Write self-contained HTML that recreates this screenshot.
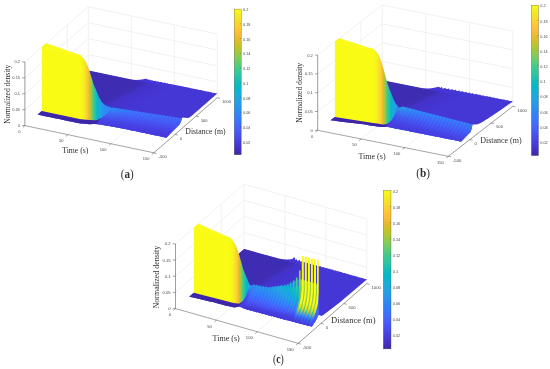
<!DOCTYPE html>
<html><head><meta charset="utf-8"><title>Figure</title>
<style>
html,body{margin:0;padding:0;background:#fff}
svg{display:block;filter:blur(0.45px)}
.tk{font-family:"Liberation Sans",sans-serif;fill:#4a4a4a}
.sf{font-family:"Liberation Serif",serif;fill:#303030}
</style></head><body>
<svg width="550" height="369" viewBox="0 0 550 369">
<rect width="550" height="369" fill="#fff"/>
<defs>
<linearGradient id="wga" gradientUnits="userSpaceOnUse" x1="85.6" y1="115.6" x2="86.1" y2="116.5"><stop offset="0" stop-color="#3e2bb0" stop-opacity="1"/><stop offset="1" stop-color="#3e2bb0" stop-opacity="1"/></linearGradient>
<linearGradient id="wha" gradientUnits="userSpaceOnUse" x1="83.6" y1="111.8" x2="93.5" y2="130.5"><stop offset="0" stop-color="#3e2db3"/><stop offset="0.17" stop-color="#3f2fb9"/><stop offset="0.24" stop-color="#4232c6"/><stop offset="0.5" stop-color="#4434cf"/><stop offset="1" stop-color="#4537d6"/></linearGradient>
<linearGradient id="paa" gradientUnits="userSpaceOnUse" x1="112.3" y1="107.6" x2="182" y2="118.2"><stop offset="0" stop-color="#2c8ff1"/><stop offset="0.1" stop-color="#317efb"/><stop offset="0.3" stop-color="#416bfe"/><stop offset="1" stop-color="#475cfa"/></linearGradient>
<linearGradient id="pba" gradientUnits="userSpaceOnUse" x1="112.3" y1="107.6" x2="109.5" y2="126.4"><stop offset="0" stop-color="#4755f6" stop-opacity="0"/><stop offset="0.1" stop-color="#4758f8" stop-opacity="0.15"/><stop offset="0.22" stop-color="#4755f6" stop-opacity="0.45"/><stop offset="0.45" stop-color="#484cef" stop-opacity="0.8"/><stop offset="0.72" stop-color="#4741e5" stop-opacity="0.97"/><stop offset="1" stop-color="#463adc" stop-opacity="1"/></linearGradient>
<linearGradient id="sga" gradientUnits="userSpaceOnUse" x1="112.3" y1="107.6" x2="109.5" y2="126.4"><stop offset="0" stop-color="#259ce7" stop-opacity="0.4"/><stop offset="0.25" stop-color="#2e83f9" stop-opacity="0.34"/><stop offset="0.55" stop-color="#4367fd" stop-opacity="0.22000000000000003"/><stop offset="0.8" stop-color="#4755f6" stop-opacity="0.08000000000000002"/><stop offset="0.92" stop-color="#4755f6" stop-opacity="0"/></linearGradient>
<linearGradient id="wla" gradientUnits="userSpaceOnUse" x1="41.8" y1="0" x2="112.3" y2="0"><stop offset="0.000" stop-color="#f9fb15"/><stop offset="0.537" stop-color="#f9fb15"/><stop offset="0.563" stop-color="#f8f719"/><stop offset="0.598" stop-color="#f5ec22"/><stop offset="0.627" stop-color="#f8da2b"/><stop offset="0.652" stop-color="#fec339"/><stop offset="0.680" stop-color="#d7be28"/><stop offset="0.707" stop-color="#8dcb4f"/><stop offset="0.733" stop-color="#41ca8c"/><stop offset="0.762" stop-color="#21c1b0"/><stop offset="0.789" stop-color="#01b8ca"/><stop offset="0.817" stop-color="#1da9e0"/><stop offset="0.851" stop-color="#2699ea"/><stop offset="0.890" stop-color="#2d8df2"/><stop offset="0.927" stop-color="#2d88f6"/><stop offset="0.963" stop-color="#2e87f7"/><stop offset="1.000" stop-color="#2e85f8"/></linearGradient>
<linearGradient id="cba" x1="0" y1="0" x2="0" y2="1"><stop offset="0%" stop-color="#f9fb15"/><stop offset="4.2%" stop-color="#f5eb23"/><stop offset="8.3%" stop-color="#f7db2b"/><stop offset="12.5%" stop-color="#feca33"/><stop offset="16.7%" stop-color="#fbbc3d"/><stop offset="20.8%" stop-color="#e5bb2d"/><stop offset="25%" stop-color="#c8c129"/><stop offset="29.2%" stop-color="#a6c83c"/><stop offset="33.3%" stop-color="#81cc59"/><stop offset="37.5%" stop-color="#5ccc76"/><stop offset="41.7%" stop-color="#3dc990"/><stop offset="45.8%" stop-color="#2cc4a6"/><stop offset="50%" stop-color="#12beb9"/><stop offset="54.2%" stop-color="#02b7cb"/><stop offset="58.3%" stop-color="#17aeda"/><stop offset="62.5%" stop-color="#21a3e3"/><stop offset="66.7%" stop-color="#2797eb"/><stop offset="70.8%" stop-color="#2d89f5"/><stop offset="75%" stop-color="#347afd"/><stop offset="79.2%" stop-color="#426afe"/><stop offset="83.3%" stop-color="#475bf9"/><stop offset="87.5%" stop-color="#484cef"/><stop offset="91.7%" stop-color="#463de0"/><stop offset="95.8%" stop-color="#4331c7"/><stop offset="100%" stop-color="#3e26a8"/></linearGradient>
<linearGradient id="wgb" gradientUnits="userSpaceOnUse" x1="379.3" y1="121.6" x2="379.7" y2="122.5"><stop offset="0" stop-color="#3e2bb0" stop-opacity="1"/><stop offset="1" stop-color="#3e2bb0" stop-opacity="1"/></linearGradient>
<linearGradient id="whb" gradientUnits="userSpaceOnUse" x1="377.5" y1="118" x2="386.5" y2="136.2"><stop offset="0" stop-color="#3e2db3"/><stop offset="0.17" stop-color="#3f2fb9"/><stop offset="0.24" stop-color="#4232c6"/><stop offset="0.5" stop-color="#4434cf"/><stop offset="1" stop-color="#4537d6"/></linearGradient>
<linearGradient id="pab" gradientUnits="userSpaceOnUse" x1="402.8" y1="106.4" x2="472.7" y2="124.6"><stop offset="0" stop-color="#249fe6"/><stop offset="0.08" stop-color="#2d8cf3"/><stop offset="0.25" stop-color="#347afd"/><stop offset="1" stop-color="#4367fd"/></linearGradient>
<linearGradient id="pbb" gradientUnits="userSpaceOnUse" x1="402.8" y1="106.4" x2="397.2" y2="128.1"><stop offset="0" stop-color="#4755f6" stop-opacity="0"/><stop offset="0.1" stop-color="#4758f8" stop-opacity="0.15"/><stop offset="0.22" stop-color="#4755f6" stop-opacity="0.45"/><stop offset="0.45" stop-color="#484cef" stop-opacity="0.8"/><stop offset="0.72" stop-color="#4741e5" stop-opacity="0.97"/><stop offset="1" stop-color="#463adc" stop-opacity="1"/></linearGradient>
<linearGradient id="sgb" gradientUnits="userSpaceOnUse" x1="402.8" y1="106.4" x2="397.2" y2="128.1"><stop offset="0" stop-color="#259ce7" stop-opacity="0.75"/><stop offset="0.25" stop-color="#2e83f9" stop-opacity="0.6375"/><stop offset="0.55" stop-color="#4367fd" stop-opacity="0.41250000000000003"/><stop offset="0.8" stop-color="#4755f6" stop-opacity="0.15000000000000002"/><stop offset="0.92" stop-color="#4755f6" stop-opacity="0"/></linearGradient>
<linearGradient id="wlb" gradientUnits="userSpaceOnUse" x1="334.9" y1="0" x2="406.3" y2="0"><stop offset="0.000" stop-color="#f9fb15"/><stop offset="0.537" stop-color="#f9fb15"/><stop offset="0.563" stop-color="#f8f719"/><stop offset="0.598" stop-color="#f5ec22"/><stop offset="0.627" stop-color="#f8da2b"/><stop offset="0.652" stop-color="#fec339"/><stop offset="0.680" stop-color="#d7be28"/><stop offset="0.707" stop-color="#8dcb4f"/><stop offset="0.733" stop-color="#41ca8c"/><stop offset="0.762" stop-color="#21c1b0"/><stop offset="0.789" stop-color="#01b8ca"/><stop offset="0.817" stop-color="#1da9e0"/><stop offset="0.851" stop-color="#2699ea"/><stop offset="0.890" stop-color="#2d8df2"/><stop offset="0.927" stop-color="#2d88f6"/><stop offset="0.963" stop-color="#2e87f7"/><stop offset="1.000" stop-color="#2e85f8"/></linearGradient>
<linearGradient id="cbb" x1="0" y1="0" x2="0" y2="1"><stop offset="0%" stop-color="#f9fb15"/><stop offset="4.2%" stop-color="#f5eb23"/><stop offset="8.3%" stop-color="#f7db2b"/><stop offset="12.5%" stop-color="#feca33"/><stop offset="16.7%" stop-color="#fbbc3d"/><stop offset="20.8%" stop-color="#e5bb2d"/><stop offset="25%" stop-color="#c8c129"/><stop offset="29.2%" stop-color="#a6c83c"/><stop offset="33.3%" stop-color="#81cc59"/><stop offset="37.5%" stop-color="#5ccc76"/><stop offset="41.7%" stop-color="#3dc990"/><stop offset="45.8%" stop-color="#2cc4a6"/><stop offset="50%" stop-color="#12beb9"/><stop offset="54.2%" stop-color="#02b7cb"/><stop offset="58.3%" stop-color="#17aeda"/><stop offset="62.5%" stop-color="#21a3e3"/><stop offset="66.7%" stop-color="#2797eb"/><stop offset="70.8%" stop-color="#2d89f5"/><stop offset="75%" stop-color="#347afd"/><stop offset="79.2%" stop-color="#426afe"/><stop offset="83.3%" stop-color="#475bf9"/><stop offset="87.5%" stop-color="#484cef"/><stop offset="91.7%" stop-color="#463de0"/><stop offset="95.8%" stop-color="#4331c7"/><stop offset="100%" stop-color="#3e26a8"/></linearGradient>
<linearGradient id="wgc" gradientUnits="userSpaceOnUse" x1="236" y1="299.3" x2="236.5" y2="300.2"><stop offset="0" stop-color="#3e2bb0" stop-opacity="1"/><stop offset="1" stop-color="#3e2bb0" stop-opacity="1"/></linearGradient>
<linearGradient id="whc" gradientUnits="userSpaceOnUse" x1="233.5" y1="295.3" x2="245.8" y2="315.3"><stop offset="0" stop-color="#3e2db3"/><stop offset="0.17" stop-color="#3f2fb9"/><stop offset="0.24" stop-color="#4232c6"/><stop offset="0.5" stop-color="#4434cf"/><stop offset="1" stop-color="#4537d6"/></linearGradient>
<linearGradient id="pac" gradientUnits="userSpaceOnUse" x1="248.5" y1="285.3" x2="318.9" y2="314.4"><stop offset="0" stop-color="#2d8cf3"/><stop offset="0.5" stop-color="#347afd"/><stop offset="1" stop-color="#4367fd"/></linearGradient>
<linearGradient id="pbc" gradientUnits="userSpaceOnUse" x1="248.5" y1="285.3" x2="241.1" y2="303.2"><stop offset="0" stop-color="#4755f6" stop-opacity="0"/><stop offset="0.1" stop-color="#4758f8" stop-opacity="0.15"/><stop offset="0.22" stop-color="#4755f6" stop-opacity="0.45"/><stop offset="0.45" stop-color="#484cef" stop-opacity="0.8"/><stop offset="0.72" stop-color="#4741e5" stop-opacity="0.97"/><stop offset="1" stop-color="#463adc" stop-opacity="1"/></linearGradient>
<linearGradient id="vc0" gradientUnits="userSpaceOnUse" x1="0" y1="283.7" x2="0" y2="325.6"><stop offset="0.000" stop-color="#92ca4c"/><stop offset="0.100" stop-color="#92ca4c"/><stop offset="0.200" stop-color="#92ca4c"/><stop offset="0.300" stop-color="#92ca4c"/><stop offset="0.400" stop-color="#92ca4c"/><stop offset="0.500" stop-color="#92ca4c"/><stop offset="0.600" stop-color="#92ca4c"/><stop offset="0.700" stop-color="#2fc5a3"/><stop offset="0.800" stop-color="#2c8ef1"/><stop offset="0.900" stop-color="#463adb"/><stop offset="1.000" stop-color="#463adb"/></linearGradient>
<linearGradient id="fc0" gradientUnits="userSpaceOnUse" x1="0" y1="260.2" x2="0" y2="325.6"><stop offset="0.000" stop-color="#f9fb15"/><stop offset="0.100" stop-color="#f9fb15"/><stop offset="0.200" stop-color="#f9fb15"/><stop offset="0.300" stop-color="#f9fb15"/><stop offset="0.400" stop-color="#f9fb15"/><stop offset="0.500" stop-color="#f9fb15"/><stop offset="0.600" stop-color="#f9fb15"/><stop offset="0.700" stop-color="#f9fb15"/><stop offset="0.800" stop-color="#d0db27"/><stop offset="0.900" stop-color="#317efb"/><stop offset="1.000" stop-color="#463adb"/></linearGradient>
<linearGradient id="vc1" gradientUnits="userSpaceOnUse" x1="0" y1="282.8" x2="0" y2="324.8"><stop offset="0.000" stop-color="#91ca4c"/><stop offset="0.100" stop-color="#91ca4c"/><stop offset="0.200" stop-color="#91ca4c"/><stop offset="0.300" stop-color="#91ca4c"/><stop offset="0.400" stop-color="#91ca4c"/><stop offset="0.500" stop-color="#91ca4c"/><stop offset="0.600" stop-color="#91ca4c"/><stop offset="0.700" stop-color="#2fc5a3"/><stop offset="0.800" stop-color="#2c8ef1"/><stop offset="0.900" stop-color="#463adb"/><stop offset="1.000" stop-color="#463adb"/></linearGradient>
<linearGradient id="fc1" gradientUnits="userSpaceOnUse" x1="0" y1="259.3" x2="0" y2="324.8"><stop offset="0.000" stop-color="#f9fb15"/><stop offset="0.100" stop-color="#f9fb15"/><stop offset="0.200" stop-color="#f9fb15"/><stop offset="0.300" stop-color="#f9fb15"/><stop offset="0.400" stop-color="#f9fb15"/><stop offset="0.500" stop-color="#f9fb15"/><stop offset="0.600" stop-color="#f9fb15"/><stop offset="0.700" stop-color="#f9fb15"/><stop offset="0.800" stop-color="#cfda27"/><stop offset="0.900" stop-color="#317efb"/><stop offset="1.000" stop-color="#463adb"/></linearGradient>
<linearGradient id="vc2" gradientUnits="userSpaceOnUse" x1="0" y1="282" x2="0" y2="324"><stop offset="0.000" stop-color="#91ca4c"/><stop offset="0.100" stop-color="#91ca4c"/><stop offset="0.200" stop-color="#91ca4c"/><stop offset="0.300" stop-color="#91ca4c"/><stop offset="0.400" stop-color="#91ca4c"/><stop offset="0.500" stop-color="#91ca4c"/><stop offset="0.600" stop-color="#91ca4c"/><stop offset="0.700" stop-color="#2fc5a3"/><stop offset="0.800" stop-color="#2c8ef1"/><stop offset="0.900" stop-color="#463ada"/><stop offset="1.000" stop-color="#463ada"/></linearGradient>
<linearGradient id="fc2" gradientUnits="userSpaceOnUse" x1="0" y1="258.5" x2="0" y2="324"><stop offset="0.000" stop-color="#f9fb15"/><stop offset="0.100" stop-color="#f9fb15"/><stop offset="0.200" stop-color="#f9fb15"/><stop offset="0.300" stop-color="#f9fb15"/><stop offset="0.400" stop-color="#f9fb15"/><stop offset="0.500" stop-color="#f9fb15"/><stop offset="0.600" stop-color="#f9fb15"/><stop offset="0.700" stop-color="#f9fb15"/><stop offset="0.800" stop-color="#cfda27"/><stop offset="0.900" stop-color="#317dfc"/><stop offset="1.000" stop-color="#463ada"/></linearGradient>
<linearGradient id="vc3" gradientUnits="userSpaceOnUse" x1="0" y1="281.1" x2="0" y2="323.1"><stop offset="0.000" stop-color="#91ca4c"/><stop offset="0.100" stop-color="#91ca4c"/><stop offset="0.200" stop-color="#91ca4c"/><stop offset="0.300" stop-color="#91ca4c"/><stop offset="0.400" stop-color="#91ca4c"/><stop offset="0.500" stop-color="#91ca4c"/><stop offset="0.600" stop-color="#91ca4c"/><stop offset="0.700" stop-color="#2ec5a3"/><stop offset="0.800" stop-color="#2c8ef1"/><stop offset="0.900" stop-color="#4639da"/><stop offset="1.000" stop-color="#4639da"/></linearGradient>
<linearGradient id="fc3" gradientUnits="userSpaceOnUse" x1="0" y1="257.6" x2="0" y2="323.1"><stop offset="0.000" stop-color="#f9fb15"/><stop offset="0.100" stop-color="#f9fb15"/><stop offset="0.200" stop-color="#f9fb15"/><stop offset="0.300" stop-color="#f9fb15"/><stop offset="0.400" stop-color="#f9fb15"/><stop offset="0.500" stop-color="#f9fb15"/><stop offset="0.600" stop-color="#f9fb15"/><stop offset="0.700" stop-color="#f9fb15"/><stop offset="0.800" stop-color="#cfda27"/><stop offset="0.900" stop-color="#317dfc"/><stop offset="1.000" stop-color="#4639da"/></linearGradient>
<linearGradient id="vc4" gradientUnits="userSpaceOnUse" x1="0" y1="280.3" x2="0" y2="322.3"><stop offset="0.000" stop-color="#91ca4c"/><stop offset="0.100" stop-color="#91ca4c"/><stop offset="0.200" stop-color="#91ca4c"/><stop offset="0.300" stop-color="#91ca4c"/><stop offset="0.400" stop-color="#91ca4c"/><stop offset="0.500" stop-color="#91ca4c"/><stop offset="0.600" stop-color="#91ca4c"/><stop offset="0.700" stop-color="#2ec5a4"/><stop offset="0.800" stop-color="#2c8ef2"/><stop offset="0.900" stop-color="#4639da"/><stop offset="1.000" stop-color="#4639da"/></linearGradient>
<linearGradient id="fc4" gradientUnits="userSpaceOnUse" x1="0" y1="256.8" x2="0" y2="322.3"><stop offset="0.000" stop-color="#f9fb15"/><stop offset="0.100" stop-color="#f9fb15"/><stop offset="0.200" stop-color="#f9fb15"/><stop offset="0.300" stop-color="#f9fb15"/><stop offset="0.400" stop-color="#f9fb15"/><stop offset="0.500" stop-color="#f9fb15"/><stop offset="0.600" stop-color="#f9fb15"/><stop offset="0.700" stop-color="#f9fb15"/><stop offset="0.800" stop-color="#cfda27"/><stop offset="0.900" stop-color="#317dfc"/><stop offset="1.000" stop-color="#4639da"/></linearGradient>
<linearGradient id="vc5" gradientUnits="userSpaceOnUse" x1="0" y1="279.4" x2="0" y2="321.5"><stop offset="0.000" stop-color="#91ca4d"/><stop offset="0.100" stop-color="#91ca4d"/><stop offset="0.200" stop-color="#91ca4d"/><stop offset="0.300" stop-color="#91ca4d"/><stop offset="0.400" stop-color="#91ca4d"/><stop offset="0.500" stop-color="#91ca4d"/><stop offset="0.600" stop-color="#91ca4d"/><stop offset="0.700" stop-color="#2ec5a4"/><stop offset="0.800" stop-color="#2c8ef2"/><stop offset="0.900" stop-color="#4639d9"/><stop offset="1.000" stop-color="#4639d9"/></linearGradient>
<linearGradient id="fc5" gradientUnits="userSpaceOnUse" x1="0" y1="255.9" x2="0" y2="321.5"><stop offset="0.000" stop-color="#f9fb15"/><stop offset="0.100" stop-color="#f9fb15"/><stop offset="0.200" stop-color="#f9fb15"/><stop offset="0.300" stop-color="#f9fb15"/><stop offset="0.400" stop-color="#f9fb15"/><stop offset="0.500" stop-color="#f9fb15"/><stop offset="0.600" stop-color="#f9fb15"/><stop offset="0.700" stop-color="#f9fb15"/><stop offset="0.800" stop-color="#cfda27"/><stop offset="0.900" stop-color="#327dfc"/><stop offset="1.000" stop-color="#4639d9"/></linearGradient>
<linearGradient id="vc6" gradientUnits="userSpaceOnUse" x1="0" y1="286.2" x2="0" y2="320.7"><stop offset="0.000" stop-color="#1cc0b4"/><stop offset="0.100" stop-color="#01b9c6"/><stop offset="0.200" stop-color="#12b1d7"/><stop offset="0.300" stop-color="#1fa5e2"/><stop offset="0.400" stop-color="#2798ea"/><stop offset="0.500" stop-color="#2d88f6"/><stop offset="0.600" stop-color="#3776fe"/><stop offset="0.700" stop-color="#4562fc"/><stop offset="0.800" stop-color="#484ef1"/><stop offset="0.900" stop-color="#4539d9"/><stop offset="1.000" stop-color="#4539d9"/></linearGradient>
<linearGradient id="fc6" gradientUnits="userSpaceOnUse" x1="0" y1="270.5" x2="0" y2="320.7"><stop offset="0.000" stop-color="#b3c534"/><stop offset="0.100" stop-color="#adc638"/><stop offset="0.200" stop-color="#99c946"/><stop offset="0.300" stop-color="#76cc61"/><stop offset="0.400" stop-color="#4acb85"/><stop offset="0.500" stop-color="#29c3aa"/><stop offset="0.600" stop-color="#05b6cd"/><stop offset="0.700" stop-color="#259ce7"/><stop offset="0.800" stop-color="#3876fe"/><stop offset="0.900" stop-color="#4747eb"/><stop offset="1.000" stop-color="#4539d9"/></linearGradient>
<linearGradient id="vc7" gradientUnits="userSpaceOnUse" x1="0" y1="287.1" x2="0" y2="319.9"><stop offset="0.000" stop-color="#02bac4"/><stop offset="0.100" stop-color="#0eb2d4"/><stop offset="0.200" stop-color="#1da9e0"/><stop offset="0.300" stop-color="#249de6"/><stop offset="0.400" stop-color="#2b91ef"/><stop offset="0.500" stop-color="#2e83f9"/><stop offset="0.600" stop-color="#3c72ff"/><stop offset="0.700" stop-color="#4660fc"/><stop offset="0.800" stop-color="#484ef1"/><stop offset="0.900" stop-color="#463adb"/><stop offset="1.000" stop-color="#4539d8"/></linearGradient>
<linearGradient id="fc7" gradientUnits="userSpaceOnUse" x1="0" y1="277.5" x2="0" y2="319.9"><stop offset="0.000" stop-color="#4acb85"/><stop offset="0.100" stop-color="#46cb88"/><stop offset="0.200" stop-color="#3ac993"/><stop offset="0.300" stop-color="#2ec5a3"/><stop offset="0.400" stop-color="#15bfb7"/><stop offset="0.500" stop-color="#06b5cf"/><stop offset="0.600" stop-color="#20a5e3"/><stop offset="0.700" stop-color="#2d8cf3"/><stop offset="0.800" stop-color="#426afe"/><stop offset="0.900" stop-color="#4744e8"/><stop offset="1.000" stop-color="#4539d8"/></linearGradient>
<linearGradient id="vc8" gradientUnits="userSpaceOnUse" x1="0" y1="287.2" x2="0" y2="319.1"><stop offset="0.000" stop-color="#04b6cd"/><stop offset="0.100" stop-color="#17aedb"/><stop offset="0.200" stop-color="#21a4e3"/><stop offset="0.300" stop-color="#2699ea"/><stop offset="0.400" stop-color="#2d8cf3"/><stop offset="0.500" stop-color="#307ffb"/><stop offset="0.600" stop-color="#3e6fff"/><stop offset="0.700" stop-color="#465ffb"/><stop offset="0.800" stop-color="#484ef1"/><stop offset="0.900" stop-color="#463bdd"/><stop offset="1.000" stop-color="#4538d8"/></linearGradient>
<linearGradient id="fc8" gradientUnits="userSpaceOnUse" x1="0" y1="280.6" x2="0" y2="319.1"><stop offset="0.000" stop-color="#2cc4a7"/><stop offset="0.100" stop-color="#2ac3a9"/><stop offset="0.200" stop-color="#20c1b1"/><stop offset="0.300" stop-color="#0bbdbd"/><stop offset="0.400" stop-color="#04b6cd"/><stop offset="0.500" stop-color="#1aabde"/><stop offset="0.600" stop-color="#269ae9"/><stop offset="0.700" stop-color="#2f83f9"/><stop offset="0.800" stop-color="#4564fd"/><stop offset="0.900" stop-color="#4742e6"/><stop offset="1.000" stop-color="#4538d8"/></linearGradient>
<linearGradient id="vc9" gradientUnits="userSpaceOnUse" x1="0" y1="287" x2="0" y2="318.3"><stop offset="0.000" stop-color="#0cb3d3"/><stop offset="0.100" stop-color="#1baade"/><stop offset="0.200" stop-color="#23a0e5"/><stop offset="0.300" stop-color="#2895ec"/><stop offset="0.400" stop-color="#2d89f5"/><stop offset="0.500" stop-color="#327cfc"/><stop offset="0.600" stop-color="#406dfe"/><stop offset="0.700" stop-color="#465dfb"/><stop offset="0.800" stop-color="#484df0"/><stop offset="0.900" stop-color="#463bde"/><stop offset="1.000" stop-color="#4538d8"/></linearGradient>
<linearGradient id="fc9" gradientUnits="userSpaceOnUse" x1="0" y1="282.5" x2="0" y2="318.3"><stop offset="0.000" stop-color="#11beba"/><stop offset="0.100" stop-color="#0cbdbc"/><stop offset="0.200" stop-color="#03bbc2"/><stop offset="0.300" stop-color="#04b6cc"/><stop offset="0.400" stop-color="#16afd9"/><stop offset="0.500" stop-color="#21a3e3"/><stop offset="0.600" stop-color="#2b92ee"/><stop offset="0.700" stop-color="#327cfc"/><stop offset="0.800" stop-color="#465ffb"/><stop offset="0.900" stop-color="#4741e5"/><stop offset="1.000" stop-color="#4538d8"/></linearGradient>
<linearGradient id="vc10" gradientUnits="userSpaceOnUse" x1="0" y1="286.6" x2="0" y2="317.5"><stop offset="0.000" stop-color="#14b0d8"/><stop offset="0.100" stop-color="#1ea7e1"/><stop offset="0.200" stop-color="#259de7"/><stop offset="0.300" stop-color="#2b92ee"/><stop offset="0.400" stop-color="#2e86f7"/><stop offset="0.500" stop-color="#3479fd"/><stop offset="0.600" stop-color="#416bfe"/><stop offset="0.700" stop-color="#475cfa"/><stop offset="0.800" stop-color="#484df0"/><stop offset="0.900" stop-color="#463cde"/><stop offset="1.000" stop-color="#4538d7"/></linearGradient>
<linearGradient id="fc10" gradientUnits="userSpaceOnUse" x1="0" y1="284" x2="0" y2="317.5"><stop offset="0.000" stop-color="#01b8c9"/><stop offset="0.100" stop-color="#02b7cb"/><stop offset="0.200" stop-color="#08b4d0"/><stop offset="0.300" stop-color="#15afd9"/><stop offset="0.400" stop-color="#1ea7e1"/><stop offset="0.500" stop-color="#259be8"/><stop offset="0.600" stop-color="#2d8bf4"/><stop offset="0.700" stop-color="#3875fe"/><stop offset="0.800" stop-color="#475cfa"/><stop offset="0.900" stop-color="#4740e4"/><stop offset="1.000" stop-color="#4538d7"/></linearGradient>
<linearGradient id="vc11" gradientUnits="userSpaceOnUse" x1="0" y1="286.2" x2="0" y2="316.6"><stop offset="0.000" stop-color="#18aedb"/><stop offset="0.100" stop-color="#20a4e3"/><stop offset="0.200" stop-color="#269ae8"/><stop offset="0.300" stop-color="#2c8ff0"/><stop offset="0.400" stop-color="#2e84f8"/><stop offset="0.500" stop-color="#3677fe"/><stop offset="0.600" stop-color="#4269fe"/><stop offset="0.700" stop-color="#475bf9"/><stop offset="0.800" stop-color="#484cf0"/><stop offset="0.900" stop-color="#463cde"/><stop offset="1.000" stop-color="#4538d7"/></linearGradient>
<linearGradient id="fc11" gradientUnits="userSpaceOnUse" x1="0" y1="284.8" x2="0" y2="316.6"><stop offset="0.000" stop-color="#0db3d3"/><stop offset="0.100" stop-color="#0fb2d5"/><stop offset="0.200" stop-color="#15afd9"/><stop offset="0.300" stop-color="#1caadf"/><stop offset="0.400" stop-color="#23a1e4"/><stop offset="0.500" stop-color="#2895ec"/><stop offset="0.600" stop-color="#2e86f7"/><stop offset="0.700" stop-color="#3c71ff"/><stop offset="0.800" stop-color="#4759f8"/><stop offset="0.900" stop-color="#473fe3"/><stop offset="1.000" stop-color="#4538d7"/></linearGradient>
<linearGradient id="vc12" gradientUnits="userSpaceOnUse" x1="0" y1="286" x2="0" y2="315.8"><stop offset="0.000" stop-color="#1baade"/><stop offset="0.100" stop-color="#23a1e4"/><stop offset="0.200" stop-color="#2797eb"/><stop offset="0.300" stop-color="#2d8cf3"/><stop offset="0.400" stop-color="#2f81fa"/><stop offset="0.500" stop-color="#3974fe"/><stop offset="0.600" stop-color="#4367fd"/><stop offset="0.700" stop-color="#475af9"/><stop offset="0.800" stop-color="#484bef"/><stop offset="0.900" stop-color="#463cde"/><stop offset="1.000" stop-color="#4537d6"/></linearGradient>
<linearGradient id="fc12" gradientUnits="userSpaceOnUse" x1="0" y1="285.2" x2="0" y2="315.8"><stop offset="0.000" stop-color="#17aeda"/><stop offset="0.100" stop-color="#18addb"/><stop offset="0.200" stop-color="#1caadf"/><stop offset="0.300" stop-color="#20a4e3"/><stop offset="0.400" stop-color="#259ce7"/><stop offset="0.500" stop-color="#2b91ef"/><stop offset="0.600" stop-color="#2f82fa"/><stop offset="0.700" stop-color="#3f6dfe"/><stop offset="0.800" stop-color="#4757f7"/><stop offset="0.900" stop-color="#473fe2"/><stop offset="1.000" stop-color="#4537d6"/></linearGradient>
<linearGradient id="vc13" gradientUnits="userSpaceOnUse" x1="0" y1="286.5" x2="0" y2="315"><stop offset="0.000" stop-color="#20a5e3"/><stop offset="0.100" stop-color="#259be7"/><stop offset="0.200" stop-color="#2b92ee"/><stop offset="0.300" stop-color="#2d87f6"/><stop offset="0.400" stop-color="#327dfc"/><stop offset="0.500" stop-color="#3d70ff"/><stop offset="0.600" stop-color="#4464fd"/><stop offset="0.700" stop-color="#4758f8"/><stop offset="0.800" stop-color="#484aee"/><stop offset="0.900" stop-color="#463bdd"/><stop offset="1.000" stop-color="#4537d6"/></linearGradient>
<linearGradient id="fc13" gradientUnits="userSpaceOnUse" x1="0" y1="285.7" x2="0" y2="315"><stop offset="0.000" stop-color="#1ca9e0"/><stop offset="0.100" stop-color="#1da8e0"/><stop offset="0.200" stop-color="#20a5e3"/><stop offset="0.300" stop-color="#249fe5"/><stop offset="0.400" stop-color="#2797eb"/><stop offset="0.500" stop-color="#2d8cf3"/><stop offset="0.600" stop-color="#317dfc"/><stop offset="0.700" stop-color="#426afe"/><stop offset="0.800" stop-color="#4755f6"/><stop offset="0.900" stop-color="#463ee1"/><stop offset="1.000" stop-color="#4537d6"/></linearGradient>
<linearGradient id="vc14" gradientUnits="userSpaceOnUse" x1="0" y1="286.9" x2="0" y2="314.2"><stop offset="0.000" stop-color="#249fe5"/><stop offset="0.100" stop-color="#2896eb"/><stop offset="0.200" stop-color="#2d8df3"/><stop offset="0.300" stop-color="#2e83f9"/><stop offset="0.400" stop-color="#3678fd"/><stop offset="0.500" stop-color="#406cfe"/><stop offset="0.600" stop-color="#4561fc"/><stop offset="0.700" stop-color="#4755f6"/><stop offset="0.800" stop-color="#4849ed"/><stop offset="0.900" stop-color="#463bdc"/><stop offset="1.000" stop-color="#4537d6"/></linearGradient>
<linearGradient id="fc14" gradientUnits="userSpaceOnUse" x1="0" y1="286.1" x2="0" y2="314.2"><stop offset="0.000" stop-color="#21a3e3"/><stop offset="0.100" stop-color="#22a2e4"/><stop offset="0.200" stop-color="#249fe5"/><stop offset="0.300" stop-color="#269ae9"/><stop offset="0.400" stop-color="#2b92ee"/><stop offset="0.500" stop-color="#2e87f7"/><stop offset="0.600" stop-color="#3579fd"/><stop offset="0.700" stop-color="#4367fd"/><stop offset="0.800" stop-color="#4853f5"/><stop offset="0.900" stop-color="#463de0"/><stop offset="1.000" stop-color="#4537d6"/></linearGradient>
<linearGradient id="vc15" gradientUnits="userSpaceOnUse" x1="0" y1="287.4" x2="0" y2="313.4"><stop offset="0.000" stop-color="#2699e9"/><stop offset="0.100" stop-color="#2b90f0"/><stop offset="0.200" stop-color="#2e87f7"/><stop offset="0.300" stop-color="#317efb"/><stop offset="0.400" stop-color="#3a73fe"/><stop offset="0.500" stop-color="#4369fe"/><stop offset="0.600" stop-color="#465efb"/><stop offset="0.700" stop-color="#4853f5"/><stop offset="0.800" stop-color="#4747eb"/><stop offset="0.900" stop-color="#463adb"/><stop offset="1.000" stop-color="#4537d5"/></linearGradient>
<linearGradient id="fc15" gradientUnits="userSpaceOnUse" x1="0" y1="286.6" x2="0" y2="313.4"><stop offset="0.000" stop-color="#249de6"/><stop offset="0.100" stop-color="#259ce7"/><stop offset="0.200" stop-color="#2699e9"/><stop offset="0.300" stop-color="#2994ed"/><stop offset="0.400" stop-color="#2d8cf3"/><stop offset="0.500" stop-color="#2f82fa"/><stop offset="0.600" stop-color="#3a74fe"/><stop offset="0.700" stop-color="#4563fd"/><stop offset="0.800" stop-color="#4851f3"/><stop offset="0.900" stop-color="#463ddf"/><stop offset="1.000" stop-color="#4537d5"/></linearGradient>
<linearGradient id="vc16" gradientUnits="userSpaceOnUse" x1="0" y1="287.8" x2="0" y2="312.6"><stop offset="0.000" stop-color="#2a93ee"/><stop offset="0.100" stop-color="#2d8bf4"/><stop offset="0.200" stop-color="#2f82fa"/><stop offset="0.300" stop-color="#3578fd"/><stop offset="0.400" stop-color="#3f6eff"/><stop offset="0.500" stop-color="#4465fd"/><stop offset="0.600" stop-color="#475bf9"/><stop offset="0.700" stop-color="#4851f3"/><stop offset="0.800" stop-color="#4746ea"/><stop offset="0.900" stop-color="#463adb"/><stop offset="1.000" stop-color="#4537d5"/></linearGradient>
<linearGradient id="fc16" gradientUnits="userSpaceOnUse" x1="0" y1="287" x2="0" y2="312.6"><stop offset="0.000" stop-color="#2797ea"/><stop offset="0.100" stop-color="#2796eb"/><stop offset="0.200" stop-color="#2a93ed"/><stop offset="0.300" stop-color="#2c8ef1"/><stop offset="0.400" stop-color="#2e87f7"/><stop offset="0.500" stop-color="#317dfc"/><stop offset="0.600" stop-color="#3e6fff"/><stop offset="0.700" stop-color="#4660fb"/><stop offset="0.800" stop-color="#484ff2"/><stop offset="0.900" stop-color="#463cde"/><stop offset="1.000" stop-color="#4537d5"/></linearGradient>
<linearGradient id="vc17" gradientUnits="userSpaceOnUse" x1="0" y1="287.2" x2="0" y2="311.8"><stop offset="0.000" stop-color="#2b92ef"/><stop offset="0.100" stop-color="#2d89f5"/><stop offset="0.200" stop-color="#2f80fa"/><stop offset="0.300" stop-color="#3777fe"/><stop offset="0.400" stop-color="#406dfe"/><stop offset="0.500" stop-color="#4564fd"/><stop offset="0.600" stop-color="#475af9"/><stop offset="0.700" stop-color="#4850f3"/><stop offset="0.800" stop-color="#4745e9"/><stop offset="0.900" stop-color="#4639da"/><stop offset="1.000" stop-color="#4536d4"/></linearGradient>
<linearGradient id="fc17" gradientUnits="userSpaceOnUse" x1="0" y1="286.4" x2="0" y2="311.8"><stop offset="0.000" stop-color="#2896ec"/><stop offset="0.100" stop-color="#2895ec"/><stop offset="0.200" stop-color="#2b92ee"/><stop offset="0.300" stop-color="#2d8df2"/><stop offset="0.400" stop-color="#2e85f8"/><stop offset="0.500" stop-color="#327bfc"/><stop offset="0.600" stop-color="#3f6eff"/><stop offset="0.700" stop-color="#465ffb"/><stop offset="0.800" stop-color="#484ef1"/><stop offset="0.900" stop-color="#463cde"/><stop offset="1.000" stop-color="#4536d4"/></linearGradient>
<linearGradient id="vc18" gradientUnits="userSpaceOnUse" x1="0" y1="286.7" x2="0" y2="310.9"><stop offset="0.000" stop-color="#2c90f0"/><stop offset="0.100" stop-color="#2d88f6"/><stop offset="0.200" stop-color="#307ffb"/><stop offset="0.300" stop-color="#3876fe"/><stop offset="0.400" stop-color="#406cfe"/><stop offset="0.500" stop-color="#4563fc"/><stop offset="0.600" stop-color="#4759f9"/><stop offset="0.700" stop-color="#4850f2"/><stop offset="0.800" stop-color="#4745e9"/><stop offset="0.900" stop-color="#4639da"/><stop offset="1.000" stop-color="#4536d4"/></linearGradient>
<linearGradient id="fc18" gradientUnits="userSpaceOnUse" x1="0" y1="285.9" x2="0" y2="310.9"><stop offset="0.000" stop-color="#2994ed"/><stop offset="0.100" stop-color="#2a93ed"/><stop offset="0.200" stop-color="#2b90f0"/><stop offset="0.300" stop-color="#2d8bf3"/><stop offset="0.400" stop-color="#2e84f8"/><stop offset="0.500" stop-color="#347afd"/><stop offset="0.600" stop-color="#406dfe"/><stop offset="0.700" stop-color="#465efb"/><stop offset="0.800" stop-color="#484ef1"/><stop offset="0.900" stop-color="#463bdd"/><stop offset="1.000" stop-color="#4536d4"/></linearGradient>
<linearGradient id="vc19" gradientUnits="userSpaceOnUse" x1="0" y1="286.2" x2="0" y2="310.1"><stop offset="0.000" stop-color="#2c8ef1"/><stop offset="0.100" stop-color="#2e86f7"/><stop offset="0.200" stop-color="#317dfb"/><stop offset="0.300" stop-color="#3974fe"/><stop offset="0.400" stop-color="#416bfe"/><stop offset="0.500" stop-color="#4562fc"/><stop offset="0.600" stop-color="#4759f8"/><stop offset="0.700" stop-color="#484ff2"/><stop offset="0.800" stop-color="#4744e8"/><stop offset="0.900" stop-color="#4639d9"/><stop offset="1.000" stop-color="#4536d3"/></linearGradient>
<linearGradient id="fc19" gradientUnits="userSpaceOnUse" x1="0" y1="285.4" x2="0" y2="310.1"><stop offset="0.000" stop-color="#2a93ee"/><stop offset="0.100" stop-color="#2b92ee"/><stop offset="0.200" stop-color="#2c8ff1"/><stop offset="0.300" stop-color="#2d8af5"/><stop offset="0.400" stop-color="#2e83f9"/><stop offset="0.500" stop-color="#3579fd"/><stop offset="0.600" stop-color="#416cfe"/><stop offset="0.700" stop-color="#465dfa"/><stop offset="0.800" stop-color="#484df0"/><stop offset="0.900" stop-color="#463bdd"/><stop offset="1.000" stop-color="#4536d3"/></linearGradient>
<linearGradient id="vc20" gradientUnits="userSpaceOnUse" x1="0" y1="285.6" x2="0" y2="309.3"><stop offset="0.000" stop-color="#2d8df2"/><stop offset="0.100" stop-color="#2e85f8"/><stop offset="0.200" stop-color="#327cfc"/><stop offset="0.300" stop-color="#3b73fe"/><stop offset="0.400" stop-color="#426afe"/><stop offset="0.500" stop-color="#4561fc"/><stop offset="0.600" stop-color="#4758f8"/><stop offset="0.700" stop-color="#484ef1"/><stop offset="0.800" stop-color="#4744e8"/><stop offset="0.900" stop-color="#4539d9"/><stop offset="1.000" stop-color="#4536d3"/></linearGradient>
<linearGradient id="fc20" gradientUnits="userSpaceOnUse" x1="0" y1="284.8" x2="0" y2="309.3"><stop offset="0.000" stop-color="#2b91ef"/><stop offset="0.100" stop-color="#2b90f0"/><stop offset="0.200" stop-color="#2d8df2"/><stop offset="0.300" stop-color="#2d88f6"/><stop offset="0.400" stop-color="#2f81fa"/><stop offset="0.500" stop-color="#3677fe"/><stop offset="0.600" stop-color="#416bfe"/><stop offset="0.700" stop-color="#475cfa"/><stop offset="0.800" stop-color="#484df0"/><stop offset="0.900" stop-color="#463bdd"/><stop offset="1.000" stop-color="#4536d3"/></linearGradient>
<linearGradient id="vc21" gradientUnits="userSpaceOnUse" x1="0" y1="285.4" x2="0" y2="308.3"><stop offset="0.000" stop-color="#2d8af5"/><stop offset="0.100" stop-color="#2f82fa"/><stop offset="0.200" stop-color="#3479fd"/><stop offset="0.300" stop-color="#3d71ff"/><stop offset="0.400" stop-color="#4368fe"/><stop offset="0.500" stop-color="#4660fb"/><stop offset="0.600" stop-color="#4757f7"/><stop offset="0.700" stop-color="#484ef1"/><stop offset="0.800" stop-color="#4744e8"/><stop offset="0.900" stop-color="#4639da"/><stop offset="1.000" stop-color="#4537d5"/></linearGradient>
<linearGradient id="fc21" gradientUnits="userSpaceOnUse" x1="0" y1="284.6" x2="0" y2="308.3"><stop offset="0.000" stop-color="#2c8ef1"/><stop offset="0.100" stop-color="#2d8df2"/><stop offset="0.200" stop-color="#2d8af4"/><stop offset="0.300" stop-color="#2e86f8"/><stop offset="0.400" stop-color="#307ffb"/><stop offset="0.500" stop-color="#3975fe"/><stop offset="0.600" stop-color="#4269fe"/><stop offset="0.700" stop-color="#475bfa"/><stop offset="0.800" stop-color="#484cf0"/><stop offset="0.900" stop-color="#463bde"/><stop offset="1.000" stop-color="#4537d5"/></linearGradient>
<linearGradient id="wlc" gradientUnits="userSpaceOnUse" x1="193.8" y1="0" x2="260.9" y2="0"><stop offset="0.000" stop-color="#f9fb15"/><stop offset="0.537" stop-color="#f9fb15"/><stop offset="0.563" stop-color="#f8f719"/><stop offset="0.598" stop-color="#f5ec22"/><stop offset="0.627" stop-color="#f8da2b"/><stop offset="0.652" stop-color="#fec339"/><stop offset="0.680" stop-color="#d7be28"/><stop offset="0.707" stop-color="#8dcb4f"/><stop offset="0.733" stop-color="#41ca8c"/><stop offset="0.762" stop-color="#21c1b0"/><stop offset="0.789" stop-color="#01b8ca"/><stop offset="0.817" stop-color="#1da9e0"/><stop offset="0.851" stop-color="#2699ea"/><stop offset="0.890" stop-color="#2d8df2"/><stop offset="0.927" stop-color="#2d88f6"/><stop offset="0.963" stop-color="#2e87f7"/><stop offset="1.000" stop-color="#2e85f8"/></linearGradient>
<linearGradient id="cbc" x1="0" y1="0" x2="0" y2="1"><stop offset="0%" stop-color="#f9fb15"/><stop offset="4.2%" stop-color="#f5eb23"/><stop offset="8.3%" stop-color="#f7db2b"/><stop offset="12.5%" stop-color="#feca33"/><stop offset="16.7%" stop-color="#fbbc3d"/><stop offset="20.8%" stop-color="#e5bb2d"/><stop offset="25%" stop-color="#c8c129"/><stop offset="29.2%" stop-color="#a6c83c"/><stop offset="33.3%" stop-color="#81cc59"/><stop offset="37.5%" stop-color="#5ccc76"/><stop offset="41.7%" stop-color="#3dc990"/><stop offset="45.8%" stop-color="#2cc4a6"/><stop offset="50%" stop-color="#12beb9"/><stop offset="54.2%" stop-color="#02b7cb"/><stop offset="58.3%" stop-color="#17aeda"/><stop offset="62.5%" stop-color="#21a3e3"/><stop offset="66.7%" stop-color="#2797eb"/><stop offset="70.8%" stop-color="#2d89f5"/><stop offset="75%" stop-color="#347afd"/><stop offset="79.2%" stop-color="#426afe"/><stop offset="83.3%" stop-color="#475bf9"/><stop offset="87.5%" stop-color="#484cef"/><stop offset="91.7%" stop-color="#463de0"/><stop offset="95.8%" stop-color="#4331c7"/><stop offset="100%" stop-color="#3e26a8"/></linearGradient>
</defs>
<path d="M88.3 70.5L88.3 6.8M131.3 79.6L131.3 15.9M174.3 88.6L174.3 24.9M217.3 97.7L217.3 34M88.3 70.5L217.3 97.7M88.3 54.6L217.3 81.8M88.3 38.6L217.3 65.8M88.3 22.7L217.3 49.9M88.3 6.8L217.3 34M24.9 125.6L24.9 61.9M46 107.2L46 43.5M67.2 88.9L67.2 25.2M24.9 109.7L88.3 54.6M24.9 93.8L88.3 38.6M24.9 77.8L88.3 22.7M24.9 61.9L88.3 6.8M67.9 134.7L131.3 79.6M110.9 143.7L174.3 88.6M153.9 152.8L217.3 97.7M46 107.2L175 134.4M67.2 88.9L196.2 116.1" stroke="#e8e8e8" stroke-width="0.6" fill="none"/>
<polygon points="88.3,70.5 131.3,79.6 135.8,79.9 139.6,79.8 143.3,79.3 145.3,78.8 146.3,78.8 147.6,79.3 147.7,79.7 149.1,79.5 149.6,79.6 149.6,80.1 150.8,80.3 152.2,80.2 152.7,80.2 152.7,80.7 153.9,80.9 155.3,80.8 155.8,80.9 155.8,81.3 157,81.5 158.4,81.4 158.9,81.5 158.9,81.9 160.1,82.1 161.5,82 162,82.1 162,82.5 163.2,82.7 164.6,82.6 165.1,82.7 165.1,83.1 166.3,83.3 167.7,83.3 168.2,83.4 168.2,83.7 169.4,83.9 170.8,83.9 171.3,84 171.3,84.3 172.5,84.5 173.9,84.5 174.4,84.6 174.4,84.9 175.6,85.1 177,85.2 177.4,85.3 177.5,85.5 178.7,85.7 180.1,85.8 180.5,85.9 180.6,86.1 181.8,86.3 183.2,86.4 183.6,86.5 183.7,86.7 184.9,87 186.3,87.1 186.7,87.2 186.8,87.4 188,87.6 189.4,87.7 189.8,87.8 189.9,88 191.1,88.2 192.5,88.4 192.9,88.5 193,88.6 194.2,88.9 195.6,89 196,89.1 196.1,89.3 197.3,89.5 198.7,89.7 199.1,89.8 199.2,89.9 200.4,90.1 201.8,90.3 202.2,90.4 202.3,90.5 203.5,90.8 204.8,91 205.3,91 205.4,91.2 206.5,91.4 207.9,91.6 208.4,91.7 208.5,91.8 209.6,92.1 211,92.2 211.5,92.3 211.6,92.5 212.7,92.7 214.1,92.9 214.6,93 214.7,93.1 217.3,93.6 191.2,116.3 189,117.7 186.9,118.1 184.8,117.7 183.3,117.4 182.2,118 181.8,118.5 181.5,119.9 180.7,122.1 179.7,124.3 170.8,133.1 166.6,137.6 166.6,137.6 162.3,136.7 158,135.8 153.7,134.9 149.4,134 145.1,133.1 140.8,132.2 136.5,131.3 132.2,130.4 127.9,129.5 123.6,128.6 119.3,127.9 115,127.1 110.7,126.3 106.4,125.6 102.1,124.8 97.8,124.2 93.5,124 89.2,124.2 84.9,123.8 80.6,123.4 76.3,122.7 72,121.8 67.7,120.9 63.4,120 59.1,119.1 54.8,118.2 50.5,117.3 46.2,116.4 41.9,115.5 37.6,114.6 41.8,110.9" fill="#4537d6"/>
<clipPath id="cla"><polygon points="88.3,70.5 131.3,79.6 135.8,79.9 139.6,79.8 143.3,79.3 145.3,78.8 146.3,78.8 147.6,79.3 147.7,79.7 149.1,79.5 149.6,79.6 149.6,80.1 150.8,80.3 152.2,80.2 152.7,80.2 152.7,80.7 153.9,80.9 155.3,80.8 155.8,80.9 155.8,81.3 157,81.5 158.4,81.4 158.9,81.5 158.9,81.9 160.1,82.1 161.5,82 162,82.1 162,82.5 163.2,82.7 164.6,82.6 165.1,82.7 165.1,83.1 166.3,83.3 167.7,83.3 168.2,83.4 168.2,83.7 169.4,83.9 170.8,83.9 171.3,84 171.3,84.3 172.5,84.5 173.9,84.5 174.4,84.6 174.4,84.9 175.6,85.1 177,85.2 177.4,85.3 177.5,85.5 178.7,85.7 180.1,85.8 180.5,85.9 180.6,86.1 181.8,86.3 183.2,86.4 183.6,86.5 183.7,86.7 184.9,87 186.3,87.1 186.7,87.2 186.8,87.4 188,87.6 189.4,87.7 189.8,87.8 189.9,88 191.1,88.2 192.5,88.4 192.9,88.5 193,88.6 194.2,88.9 195.6,89 196,89.1 196.1,89.3 197.3,89.5 198.7,89.7 199.1,89.8 199.2,89.9 200.4,90.1 201.8,90.3 202.2,90.4 202.3,90.5 203.5,90.8 204.8,91 205.3,91 205.4,91.2 206.5,91.4 207.9,91.6 208.4,91.7 208.5,91.8 209.6,92.1 211,92.2 211.5,92.3 211.6,92.5 212.7,92.7 214.1,92.9 214.6,93 214.7,93.1 217.3,93.6 191.2,116.3 189,117.7 186.9,118.1 184.8,117.7 183.3,117.4 182.2,118 181.8,118.5 181.5,119.9 180.7,122.1 179.7,124.3 170.8,133.1 166.6,137.6 166.6,137.6 162.3,136.7 158,135.8 153.7,134.9 149.4,134 145.1,133.1 140.8,132.2 136.5,131.3 132.2,130.4 127.9,129.5 123.6,128.6 119.3,127.9 115,127.1 110.7,126.3 106.4,125.6 102.1,124.8 97.8,124.2 93.5,124 89.2,124.2 84.9,123.8 80.6,123.4 76.3,122.7 72,121.8 67.7,120.9 63.4,120 59.1,119.1 54.8,118.2 50.5,117.3 46.2,116.4 41.9,115.5 37.6,114.6 41.8,110.9"/></clipPath>
<polygon points="88.3,70.5 180.8,90 120,122.8 115.8,126.5 41.8,110.9" fill="url(#wha)" clip-path="url(#cla)"/>
<polygon points="112.3,107.6 182,118.2 181.8,118.5 181.5,119.9 180.7,122.1 179.7,124.3 170.8,133.1 166.6,137.6 166.6,137.6 164.4,137.4 164.4,137.2 162.3,137 162.3,136.7 160.1,136.5 160.1,136.3 158,136.1 158,135.8 155.8,135.6 155.8,135.4 153.7,135.2 153.7,134.9 151.5,134.7 151.5,134.5 149.4,134.3 149.4,134 147.2,133.8 147.2,133.6 145.1,133.4 145.1,133.1 142.9,132.9 142.9,132.7 140.8,132.5 140.8,132.2 138.6,132 138.6,131.8 136.5,131.6 136.5,131.3 134.3,131.1 134.3,130.9 132.2,130.7 132.2,130.4 130,130.2 130,130 127.9,129.8 127.9,129.5 125.7,129.3 125.7,129.1 123.6,128.9 123.6,128.6 121.4,128.4 121.4,128.3 119.3,128 119.3,127.9 117.1,127.6 117.1,127.5 115,127.3 115,127.1 112.8,126.9 112.8,126.7 110.7,126.5 110.7,126.3 108.5,126.1 108.5,126 106.4,125.7 106.4,125.6 104.2,125.4 104.2,125.2 102.1,125 102.1,124.8 99.9,124.5 97.8,124.2 96.6,124.1 100.8,118 102.1,117.2 103.4,116.4 104.7,115.5 106,114.7 107.3,113.7 108.5,112.3 109.8,110.8 111.1,109.3" fill="url(#paa)"/>
<clipPath id="cpa"><polygon points="112.3,107.6 182,118.2 181.8,118.5 181.5,119.9 180.7,122.1 179.7,124.3 170.8,133.1 166.6,137.6 166.6,137.6 164.4,137.4 164.4,137.2 162.3,137 162.3,136.7 160.1,136.5 160.1,136.3 158,136.1 158,135.8 155.8,135.6 155.8,135.4 153.7,135.2 153.7,134.9 151.5,134.7 151.5,134.5 149.4,134.3 149.4,134 147.2,133.8 147.2,133.6 145.1,133.4 145.1,133.1 142.9,132.9 142.9,132.7 140.8,132.5 140.8,132.2 138.6,132 138.6,131.8 136.5,131.6 136.5,131.3 134.3,131.1 134.3,130.9 132.2,130.7 132.2,130.4 130,130.2 130,130 127.9,129.8 127.9,129.5 125.7,129.3 125.7,129.1 123.6,128.9 123.6,128.6 121.4,128.4 121.4,128.3 119.3,128 119.3,127.9 117.1,127.6 117.1,127.5 115,127.3 115,127.1 112.8,126.9 112.8,126.7 110.7,126.5 110.7,126.3 108.5,126.1 108.5,126 106.4,125.7 106.4,125.6 104.2,125.4 104.2,125.2 102.1,125 102.1,124.8 99.9,124.5 97.8,124.2 96.6,124.1 100.8,118 102.1,117.2 103.4,116.4 104.7,115.5 106,114.7 107.3,113.7 108.5,112.3 109.8,110.8 111.1,109.3"/></clipPath>
<polygon points="112.3,107.6 182,118.2 181.8,118.5 181.5,119.9 180.7,122.1 179.7,124.3 170.8,133.1 166.6,137.6 166.6,137.6 164.4,137.4 164.4,137.2 162.3,137 162.3,136.7 160.1,136.5 160.1,136.3 158,136.1 158,135.8 155.8,135.6 155.8,135.4 153.7,135.2 153.7,134.9 151.5,134.7 151.5,134.5 149.4,134.3 149.4,134 147.2,133.8 147.2,133.6 145.1,133.4 145.1,133.1 142.9,132.9 142.9,132.7 140.8,132.5 140.8,132.2 138.6,132 138.6,131.8 136.5,131.6 136.5,131.3 134.3,131.1 134.3,130.9 132.2,130.7 132.2,130.4 130,130.2 130,130 127.9,129.8 127.9,129.5 125.7,129.3 125.7,129.1 123.6,128.9 123.6,128.6 121.4,128.4 121.4,128.3 119.3,128 119.3,127.9 117.1,127.6 117.1,127.5 115,127.3 115,127.1 112.8,126.9 112.8,126.7 110.7,126.5 110.7,126.3 108.5,126.1 108.5,126 106.4,125.7 106.4,125.6 104.2,125.4 104.2,125.2 102.1,125 102.1,124.8 99.9,124.5 97.8,124.2 96.6,124.1 100.8,118 102.1,117.2 103.4,116.4 104.7,115.5 106,114.7 107.3,113.7 108.5,112.3 109.8,110.8 111.1,109.3" fill="url(#pba)"/>
<path d="M113.9 106.8Q110.9 115.8 98.4 126.8M117.2 107.3Q114.2 116.3 101.7 127.3M120.6 107.8Q117.6 116.8 105.1 127.8M124 108.3Q121 117.3 108.5 128.3M127.4 108.8Q124.4 117.8 111.9 128.8M130.8 109.3Q127.8 118.3 115.3 129.3M134.1 109.9Q131.1 118.9 118.6 129.9M137.5 110.4Q134.5 119.4 122 130.4M140.9 110.9Q137.9 119.9 125.4 130.9M144.3 111.4Q141.3 120.4 128.8 131.4M147.7 111.9Q144.7 120.9 132.2 131.9M151 112.4Q148 121.4 135.5 132.4M154.4 112.9Q151.4 121.9 138.9 132.9M157.8 113.4Q154.8 122.4 142.3 133.4M161.2 114Q158.2 123 145.7 134M164.6 114.5Q161.6 123.5 149.1 134.5M168 115Q165 124 152.5 135M171.3 115.5Q168.3 124.5 155.8 135.5M174.7 116Q171.7 125 159.2 136M178.1 116.5Q175.1 125.5 162.6 136.5M181.5 117Q178.5 126 166 137M184.9 117.5Q181.9 126.5 169.4 137.5" stroke="url(#sga)" stroke-width="1.4" fill="none" clip-path="url(#cpa)"/>
<polygon points="37.6,114.6 41.9,115.5 46.2,116.4 50.5,117.3 54.8,118.2 59.1,119.1 63.4,120 67.7,120.9 72,121.8 76.3,122.7 80.6,123.4 84.9,123.8 89.2,124.2 93.5,124 96.6,124.1 100.8,118 97.7,119.8 93.4,120.1 89.1,119.9 84.8,119.6 80.5,119.1 76.2,118.2 71.9,117.3 67.6,116.3 63.3,115.4 59,114.5 54.7,113.6 50.4,112.7 46.1,111.8 41.8,110.9" fill="#3e26a8"/>
<polygon points="41.8,47.2 46,43.5 80.9,55.5" fill="#f9fb15" stroke="#f9fb15" stroke-width="0.6"/>
<polygon points="41.8,47.2 79.6,55.2 81.5,56.2 83.9,58.6 86,61.9 87.8,66.1 89.8,72 91.7,78.1 93.5,84.2 95.6,89.1 97.4,93.3 99.4,97.9 101.8,101.9 104.6,104.7 107.2,106.2 109.7,107.1 112.3,107.9 112.3,107.9 109.7,110.9 107.2,113.8 104.6,115.6 101.8,117.4 99.4,118.8 97.4,119.9 95.6,120.2 93.5,120.2 91.7,120.1 89.8,120 87.8,119.8 86,119.7 83.9,119.6 81.5,119.3 79.6,118.9 41.8,110.9" fill="url(#wla)"/>
<text x="20.1" y="127" font-size="4.0" class="tk" text-anchor="end">0</text>
<text x="20.1" y="111.1" font-size="4.0" class="tk" text-anchor="end">0.05</text>
<text x="20.1" y="95.2" font-size="4.0" class="tk" text-anchor="end">0.1</text>
<text x="20.1" y="79.3" font-size="4.0" class="tk" text-anchor="end">0.15</text>
<text x="20.1" y="63.3" font-size="4.0" class="tk" text-anchor="end">0.2</text>
<text x="20.4" y="133" font-size="4.0" class="tk" text-anchor="end">0</text>
<text x="63.4" y="142.1" font-size="4.0" class="tk" text-anchor="end">50</text>
<text x="106.4" y="151.2" font-size="4.0" class="tk" text-anchor="end">100</text>
<text x="149.4" y="160.2" font-size="4.0" class="tk" text-anchor="end">150</text>
<text x="158.6" y="158.2" font-size="4.0" class="tk">-500</text>
<text x="179.7" y="139.9" font-size="4.0" class="tk">0</text>
<text x="200.9" y="121.5" font-size="4.0" class="tk">500</text>
<text x="222" y="103.1" font-size="4.0" class="tk">1000</text>
<path d="M24.9 61.9L24.9 125.6L153.9 152.8L217.3 97.7M24.9 125.6L22.1 125.6M24.9 109.7L22.1 109.7M24.9 93.8L22.1 93.8M24.9 77.8L22.1 77.8M24.9 61.9L22.1 61.9M24.9 125.6L22.8 127.4M67.9 134.7L65.8 136.5M110.9 143.7L108.8 145.6M153.9 152.8L151.8 154.6M153.9 152.8L156.6 153.4M175 134.4L177.8 135M196.2 116.1L198.9 116.6M217.3 97.7L220 98.3" stroke="#4a4a4a" stroke-width="0.5" fill="none"/>
<text transform="translate(9.6 123.8) rotate(-90)" font-size="7.6" class="sf" textLength="59" lengthAdjust="spacingAndGlyphs">Normalized density</text>
<text x="62.2" y="153.4" font-size="7.6" class="sf" textLength="26.1" lengthAdjust="spacingAndGlyphs">Time (s)</text>
<text x="185.3" y="133.7" font-size="7.6" class="sf" textLength="40.3" lengthAdjust="spacingAndGlyphs">Distance (m)</text>
<text x="120.7" y="178.2" font-size="11.5" class="sf" textLength="12.9" lengthAdjust="spacingAndGlyphs">(<tspan font-weight="bold">a</tspan>)</text>
<rect x="234.2" y="9.1" width="7" height="145.7" fill="url(#cba)" stroke="#55553a" stroke-width="0.35"/>
<text x="243" y="11.2" font-size="3.8" class="tk">0.2</text>
<line x1="240.3" y1="23.8" x2="241.2" y2="23.8" stroke="#333" stroke-width="0.4"/>
<text x="243" y="25.9" font-size="3.8" class="tk">0.18</text>
<line x1="240.3" y1="38.5" x2="241.2" y2="38.5" stroke="#333" stroke-width="0.4"/>
<text x="243" y="40.6" font-size="3.8" class="tk">0.16</text>
<line x1="240.3" y1="53.3" x2="241.2" y2="53.3" stroke="#333" stroke-width="0.4"/>
<text x="243" y="55.3" font-size="3.8" class="tk">0.14</text>
<line x1="240.3" y1="68" x2="241.2" y2="68" stroke="#333" stroke-width="0.4"/>
<text x="243" y="70.1" font-size="3.8" class="tk">0.12</text>
<line x1="240.3" y1="82.7" x2="241.2" y2="82.7" stroke="#333" stroke-width="0.4"/>
<text x="243" y="84.8" font-size="3.8" class="tk">0.1</text>
<line x1="240.3" y1="97.4" x2="241.2" y2="97.4" stroke="#333" stroke-width="0.4"/>
<text x="243" y="99.5" font-size="3.8" class="tk">0.08</text>
<line x1="240.3" y1="112.2" x2="241.2" y2="112.2" stroke="#333" stroke-width="0.4"/>
<text x="243" y="114.2" font-size="3.8" class="tk">0.06</text>
<line x1="240.3" y1="126.9" x2="241.2" y2="126.9" stroke="#333" stroke-width="0.4"/>
<text x="243" y="128.9" font-size="3.8" class="tk">0.04</text>
<line x1="240.3" y1="141.6" x2="241.2" y2="141.6" stroke="#333" stroke-width="0.4"/>
<text x="243" y="143.7" font-size="3.8" class="tk">0.02</text>
<path d="M382.3 80.3L382.3 5.1M425.8 89L425.8 13.8M469.4 97.6L469.4 22.4M512.9 106.3L512.9 31.1M382.3 80.3L512.9 106.3M382.3 61.5L512.9 87.5M382.3 42.7L512.9 68.7M382.3 23.9L512.9 49.9M382.3 5.1L512.9 31.1M317.7 130.3L317.7 55.1M339.2 113.6L339.2 38.4M360.8 97L360.8 21.8M317.7 111.5L382.3 61.5M317.7 92.7L382.3 42.7M317.7 73.9L382.3 23.9M317.7 55.1L382.3 5.1M361.2 139L425.8 89M404.8 147.6L469.4 97.6M448.3 156.3L512.9 106.3M339.2 113.6L469.8 139.6M360.8 97L491.4 123" stroke="#e8e8e8" stroke-width="0.6" fill="none"/>
<polygon points="382.3,80.3 422.4,88.3 427.3,88.6 431.4,88.3 435.4,87.6 437.6,86.9 438.7,86.8 440,87.4 440.1,87.9 441.7,87.1 442.2,87.2 442.3,88.4 443.6,88.5 445.2,87.8 445.7,87.9 445.8,88.9 447.1,89.1 448.6,88.4 449.2,88.6 449.2,89.5 450.6,89.7 452.1,89.1 452.6,89.2 452.7,90.1 454,90.3 455.6,89.8 456.1,89.9 456.2,90.8 457.5,91 459.1,90.5 459.6,90.6 459.7,91.4 461,91.6 462.6,91.2 463.1,91.3 463.2,92 464.5,92.2 466.1,91.9 466.6,92 466.7,92.7 468,92.9 469.5,92.6 470.1,92.7 470.1,93.3 471.5,93.5 473,93.3 473.5,93.4 473.6,94 474.9,94.2 476.5,94 477,94.1 477.1,94.6 478.4,94.8 480,94.7 480.5,94.8 480.6,95.3 481.9,95.5 483.5,95.4 484,95.5 484.1,95.9 485.4,96.2 487,96.1 487.5,96.2 487.5,96.6 488.9,96.8 490.4,96.8 491,96.9 491,97.3 492.4,97.5 493.9,97.5 494.4,97.6 494.5,97.9 495.8,98.2 497.4,98.2 497.9,98.3 498,98.6 499.3,98.9 500.9,98.9 501.4,99 501.5,99.3 502.8,99.5 504.4,99.6 504.9,99.7 505,100 506.3,100.2 507.9,100.3 508.4,100.4 508.4,100.6 509.8,100.9 511.3,101 511.9,101.1 511.9,101.3 512.9,101.4 500,110.5 489.2,117.7 482.7,121.8 480.6,123 477.6,124.2 475,124.4 473.5,124.4 472.7,124.6 472.3,125.3 472,127.1 471.3,129.8 470.3,132.2 465.5,137.1 461.2,141.4 461.2,141.4 456.9,140.5 452.5,139.7 448.2,138.8 443.8,137.9 439.5,137.1 435.1,136.2 430.7,135.3 426.4,134.5 422,133.6 417.7,132.7 413.3,131.9 409,131 404.6,130.1 400.3,129.3 395.9,128.4 391.6,127.5 387.2,126.9 382.9,126.9 378.5,126.8 374.2,126.1 369.8,125.4 365.4,124.6 361.1,124.1 356.7,123.6 352.4,123 348,122.5 343.7,121.9 339.3,121.4 335,120.8 330.6,120.3 334.9,117" fill="#4537d6"/>
<clipPath id="clb"><polygon points="382.3,80.3 422.4,88.3 427.3,88.6 431.4,88.3 435.4,87.6 437.6,86.9 438.7,86.8 440,87.4 440.1,87.9 441.7,87.1 442.2,87.2 442.3,88.4 443.6,88.5 445.2,87.8 445.7,87.9 445.8,88.9 447.1,89.1 448.6,88.4 449.2,88.6 449.2,89.5 450.6,89.7 452.1,89.1 452.6,89.2 452.7,90.1 454,90.3 455.6,89.8 456.1,89.9 456.2,90.8 457.5,91 459.1,90.5 459.6,90.6 459.7,91.4 461,91.6 462.6,91.2 463.1,91.3 463.2,92 464.5,92.2 466.1,91.9 466.6,92 466.7,92.7 468,92.9 469.5,92.6 470.1,92.7 470.1,93.3 471.5,93.5 473,93.3 473.5,93.4 473.6,94 474.9,94.2 476.5,94 477,94.1 477.1,94.6 478.4,94.8 480,94.7 480.5,94.8 480.6,95.3 481.9,95.5 483.5,95.4 484,95.5 484.1,95.9 485.4,96.2 487,96.1 487.5,96.2 487.5,96.6 488.9,96.8 490.4,96.8 491,96.9 491,97.3 492.4,97.5 493.9,97.5 494.4,97.6 494.5,97.9 495.8,98.2 497.4,98.2 497.9,98.3 498,98.6 499.3,98.9 500.9,98.9 501.4,99 501.5,99.3 502.8,99.5 504.4,99.6 504.9,99.7 505,100 506.3,100.2 507.9,100.3 508.4,100.4 508.4,100.6 509.8,100.9 511.3,101 511.9,101.1 511.9,101.3 512.9,101.4 500,110.5 489.2,117.7 482.7,121.8 480.6,123 477.6,124.2 475,124.4 473.5,124.4 472.7,124.6 472.3,125.3 472,127.1 471.3,129.8 470.3,132.2 465.5,137.1 461.2,141.4 461.2,141.4 456.9,140.5 452.5,139.7 448.2,138.8 443.8,137.9 439.5,137.1 435.1,136.2 430.7,135.3 426.4,134.5 422,133.6 417.7,132.7 413.3,131.9 409,131 404.6,130.1 400.3,129.3 395.9,128.4 391.6,127.5 387.2,126.9 382.9,126.9 378.5,126.8 374.2,126.1 369.8,125.4 365.4,124.6 361.1,124.1 356.7,123.6 352.4,123 348,122.5 343.7,121.9 339.3,121.4 335,120.8 330.6,120.3 334.9,117"/></clipPath>
<polygon points="382.3,80.3 473.5,98.5 414.1,128.5 409.8,131.9 334.9,117" fill="url(#whb)" clip-path="url(#clb)"/>
<polygon points="402.8,106.4 472.7,124.6 472.3,125.3 472,127.1 471.3,129.8 470.3,132.2 465.5,137.1 461.2,141.4 461.2,141.4 459,141.4 459,141 456.9,141 456.9,140.5 454.7,140.6 454.7,140.1 452.5,140.1 452.5,139.7 450.3,139.7 450.3,139.2 448.2,139.3 448.2,138.8 446,138.8 446,138.4 443.8,138.4 443.8,137.9 441.6,138 441.6,137.5 439.5,137.5 439.5,137.1 437.3,137.1 437.3,136.6 435.1,136.7 435.1,136.2 432.9,136.2 432.9,135.8 430.7,135.8 430.7,135.3 428.6,135.4 428.6,134.9 426.4,134.9 426.4,134.5 424.2,134.5 424.2,134 422,134.1 422,133.6 419.9,133.6 419.9,133.2 417.7,133.2 417.7,132.7 415.5,132.8 415.5,132.3 413.3,132.3 413.3,131.9 411.2,131.9 411.2,131.4 409,131.5 409,131 406.8,131 406.8,130.6 404.6,130.6 404.6,130.1 402.4,130.2 402.4,129.7 400.3,129.7 400.3,129.3 398.1,129.3 398.1,128.8 395.9,128.9 395.9,128.4 393.7,128.4 393.7,128 391.6,128 391.6,127.5 389.4,127.1 387.2,126.9 385.7,126.8 390,121.6 391.3,120.3 392.7,118.3 394,116.2 395.3,113.5 396.6,110.2 397.9,108" fill="url(#pab)"/>
<clipPath id="cpb"><polygon points="402.8,106.4 472.7,124.6 472.3,125.3 472,127.1 471.3,129.8 470.3,132.2 465.5,137.1 461.2,141.4 461.2,141.4 459,141.4 459,141 456.9,141 456.9,140.5 454.7,140.6 454.7,140.1 452.5,140.1 452.5,139.7 450.3,139.7 450.3,139.2 448.2,139.3 448.2,138.8 446,138.8 446,138.4 443.8,138.4 443.8,137.9 441.6,138 441.6,137.5 439.5,137.5 439.5,137.1 437.3,137.1 437.3,136.6 435.1,136.7 435.1,136.2 432.9,136.2 432.9,135.8 430.7,135.8 430.7,135.3 428.6,135.4 428.6,134.9 426.4,134.9 426.4,134.5 424.2,134.5 424.2,134 422,134.1 422,133.6 419.9,133.6 419.9,133.2 417.7,133.2 417.7,132.7 415.5,132.8 415.5,132.3 413.3,132.3 413.3,131.9 411.2,131.9 411.2,131.4 409,131.5 409,131 406.8,131 406.8,130.6 404.6,130.6 404.6,130.1 402.4,130.2 402.4,129.7 400.3,129.7 400.3,129.3 398.1,129.3 398.1,128.8 395.9,128.9 395.9,128.4 393.7,128.4 393.7,128 391.6,128 391.6,127.5 389.4,127.1 387.2,126.9 385.7,126.8 390,121.6 391.3,120.3 392.7,118.3 394,116.2 395.3,113.5 396.6,110.2 397.9,108"/></clipPath>
<polygon points="402.8,106.4 472.7,124.6 472.3,125.3 472,127.1 471.3,129.8 470.3,132.2 465.5,137.1 461.2,141.4 461.2,141.4 459,141.4 459,141 456.9,141 456.9,140.5 454.7,140.6 454.7,140.1 452.5,140.1 452.5,139.7 450.3,139.7 450.3,139.2 448.2,139.3 448.2,138.8 446,138.8 446,138.4 443.8,138.4 443.8,137.9 441.6,138 441.6,137.5 439.5,137.5 439.5,137.1 437.3,137.1 437.3,136.6 435.1,136.7 435.1,136.2 432.9,136.2 432.9,135.8 430.7,135.8 430.7,135.3 428.6,135.4 428.6,134.9 426.4,134.9 426.4,134.5 424.2,134.5 424.2,134 422,134.1 422,133.6 419.9,133.6 419.9,133.2 417.7,133.2 417.7,132.7 415.5,132.8 415.5,132.3 413.3,132.3 413.3,131.9 411.2,131.9 411.2,131.4 409,131.5 409,131 406.8,131 406.8,130.6 404.6,130.6 404.6,130.1 402.4,130.2 402.4,129.7 400.3,129.7 400.3,129.3 398.1,129.3 398.1,128.8 395.9,128.9 395.9,128.4 393.7,128.4 393.7,128 391.6,128 391.6,127.5 389.4,127.1 387.2,126.9 385.7,126.8 390,121.6 391.3,120.3 392.7,118.3 394,116.2 395.3,113.5 396.6,110.2 397.9,108" fill="url(#pbb)"/>
<path d="M404.4 105.7Q401.4 116.1 388.9 129.1M407.8 106.6Q404.8 117 392.3 130M411.1 107.5Q408.1 117.9 395.6 130.9M414.5 108.3Q411.5 118.8 399 131.8M417.9 109.2Q414.9 119.7 402.4 132.7M421.3 110.1Q418.3 120.5 405.8 133.5M424.7 111Q421.7 121.4 409.2 134.4M428.1 111.9Q425.1 122.3 412.6 135.3M431.5 112.8Q428.5 123.2 416 136.2M434.9 113.6Q431.9 124.1 419.4 137.1M438.3 114.5Q435.3 125 422.8 137.9M441.7 115.4Q438.7 125.8 426.2 138.8M445.1 116.3Q442.1 126.7 429.6 139.7M448.5 117.2Q445.5 127.6 433 140.6M451.8 118.1Q448.8 128.5 436.3 141.5M455.2 118.9Q452.2 129.4 439.7 142.4M458.6 119.8Q455.6 130.3 443.1 143.2M462 120.7Q459 131.1 446.5 144.1M465.4 121.6Q462.4 132 449.9 145M468.8 122.5Q465.8 132.9 453.3 145.9M472.2 123.3Q469.2 133.8 456.7 146.8M475.6 124.2Q472.6 134.7 460.1 147.7" stroke="url(#sgb)" stroke-width="1.4" fill="none" clip-path="url(#cpb)"/>
<polygon points="330.6,120.3 335,120.8 339.3,121.4 343.7,121.9 348,122.5 352.4,123 356.7,123.6 361.1,124.1 365.4,124.6 369.8,125.4 374.2,126.1 378.5,126.8 382.9,126.9 385.7,126.8 390,121.6 387.2,123.9 382.8,124.4 378.5,123.7 374.1,123.1 369.8,122.4 365.4,121.7 361,121 356.7,120.4 352.3,119.7 348,119 343.6,118.3 339.3,117.6 334.9,117" fill="#3e26a8"/>
<polygon points="334.9,41.8 339.2,38.4 374.5,49.7" fill="#f9fb15" stroke="#f9fb15" stroke-width="0.6"/>
<polygon points="334.9,41.8 373.2,49.4 375.2,50.5 377.6,53.3 379.7,57.1 381.5,61.9 383.5,68.7 385.4,75.9 387.3,83 389.3,88.7 391.3,93.6 393.3,98.9 395.7,103.5 398.5,106.7 401.1,108.3 403.7,109.2 406.3,110.1 406.3,110.1 403.7,109.2 401.1,108.3 398.5,107.1 395.7,112.4 393.3,117.3 391.3,120.4 389.3,122.2 387.3,123.8 385.4,124.2 383.5,124.5 381.5,124.2 379.7,123.9 377.6,123.6 375.2,123.2 373.2,122.9 334.9,117" fill="url(#wlb)"/>
<text x="312.9" y="131.8" font-size="4.1" class="tk" text-anchor="end">0</text>
<text x="312.9" y="113" font-size="4.1" class="tk" text-anchor="end">0.05</text>
<text x="312.9" y="94.2" font-size="4.1" class="tk" text-anchor="end">0.1</text>
<text x="312.9" y="75.4" font-size="4.1" class="tk" text-anchor="end">0.15</text>
<text x="312.9" y="56.6" font-size="4.1" class="tk" text-anchor="end">0.2</text>
<text x="313.2" y="137.8" font-size="4.1" class="tk" text-anchor="end">0</text>
<text x="356.7" y="146.4" font-size="4.1" class="tk" text-anchor="end">50</text>
<text x="400.3" y="155.1" font-size="4.1" class="tk" text-anchor="end">100</text>
<text x="443.8" y="163.8" font-size="4.1" class="tk" text-anchor="end">150</text>
<text x="453" y="161.8" font-size="4.1" class="tk">-500</text>
<text x="474.5" y="145.1" font-size="4.1" class="tk">0</text>
<text x="496.1" y="128.4" font-size="4.1" class="tk">500</text>
<text x="517.6" y="111.8" font-size="4.1" class="tk">1000</text>
<path d="M317.7 55.1L317.7 130.3L448.3 156.3L512.9 106.3M317.7 130.3L314.9 130.3M317.7 111.5L314.9 111.5M317.7 92.7L314.9 92.7M317.7 73.9L314.9 73.9M317.7 55.1L314.9 55.1M317.7 130.3L315.5 132M361.2 139L359 140.7M404.8 147.6L402.6 149.3M448.3 156.3L446.1 158M448.3 156.3L451 156.8M469.8 139.6L472.6 140.2M491.4 123L494.1 123.5M512.9 106.3L515.6 106.8" stroke="#4a4a4a" stroke-width="0.5" fill="none"/>
<text transform="translate(301.6 122.7) rotate(-90)" font-size="7.7" class="sf" textLength="59.8" lengthAdjust="spacingAndGlyphs">Normalized density</text>
<text x="358.4" y="158.9" font-size="7.7" class="sf" textLength="27.2" lengthAdjust="spacingAndGlyphs">Time (s)</text>
<text x="480.2" y="143" font-size="7.7" class="sf" textLength="41.4" lengthAdjust="spacingAndGlyphs">Distance (m)</text>
<text x="416.2" y="177.2" font-size="11.5" class="sf" textLength="13.8" lengthAdjust="spacingAndGlyphs">(<tspan font-weight="bold">b</tspan>)</text>
<rect x="531.4" y="5.3" width="7.1" height="150.3" fill="url(#cbb)" stroke="#55553a" stroke-width="0.35"/>
<text x="540.3" y="7.4" font-size="3.8" class="tk">0.2</text>
<line x1="537.6" y1="20.5" x2="538.5" y2="20.5" stroke="#333" stroke-width="0.4"/>
<text x="540.3" y="22.5" font-size="3.8" class="tk">0.18</text>
<line x1="537.6" y1="35.6" x2="538.5" y2="35.6" stroke="#333" stroke-width="0.4"/>
<text x="540.3" y="37.7" font-size="3.8" class="tk">0.16</text>
<line x1="537.6" y1="50.8" x2="538.5" y2="50.8" stroke="#333" stroke-width="0.4"/>
<text x="540.3" y="52.8" font-size="3.8" class="tk">0.14</text>
<line x1="537.6" y1="65.9" x2="538.5" y2="65.9" stroke="#333" stroke-width="0.4"/>
<text x="540.3" y="68" font-size="3.8" class="tk">0.12</text>
<line x1="537.6" y1="81.1" x2="538.5" y2="81.1" stroke="#333" stroke-width="0.4"/>
<text x="540.3" y="83.1" font-size="3.8" class="tk">0.1</text>
<line x1="537.6" y1="96.2" x2="538.5" y2="96.2" stroke="#333" stroke-width="0.4"/>
<text x="540.3" y="98.3" font-size="3.8" class="tk">0.08</text>
<line x1="537.6" y1="111.4" x2="538.5" y2="111.4" stroke="#333" stroke-width="0.4"/>
<text x="540.3" y="113.5" font-size="3.8" class="tk">0.06</text>
<line x1="537.6" y1="126.5" x2="538.5" y2="126.5" stroke="#333" stroke-width="0.4"/>
<text x="540.3" y="128.6" font-size="3.8" class="tk">0.04</text>
<line x1="537.6" y1="141.7" x2="538.5" y2="141.7" stroke="#333" stroke-width="0.4"/>
<text x="540.3" y="143.8" font-size="3.8" class="tk">0.02</text>
<path d="M244.1 248.9L244.1 184.1M285 260.5L285 195.7M325.9 272L325.9 207.2M366.8 283.6L366.8 218.8M244.1 248.9L366.8 283.6M244.1 232.7L366.8 267.4M244.1 216.5L366.8 251.2M244.1 200.3L366.8 235M244.1 184.1L366.8 218.8M175.5 308.6L175.5 243.8M198.4 288.7L198.4 223.9M221.2 268.8L221.2 204M175.5 292.4L244.1 232.7M175.5 276.2L244.1 216.5M175.5 260L244.1 200.3M175.5 243.8L244.1 184.1M216.4 320.2L285 260.5M257.3 331.7L325.9 272M298.2 343.3L366.8 283.6M198.4 288.7L321.1 323.4M221.2 268.8L343.9 303.5" stroke="#e8e8e8" stroke-width="0.6" fill="none"/>
<polygon points="244.1,248.9 278.5,258.6 283.1,259.3 286.9,259.5 290.8,259.2 292.8,258.8 293.8,257.3 295.1,257.9 295.1,260 296.5,259.3 297,259.4 297,260.5 298.2,260.8 299.5,260.1 300,260.3 300,261.3 301.2,261.5 302.6,261 303,261.1 303.1,262.1 304.2,262.3 305.6,261.9 306,262 306.1,262.9 307.2,263.1 308.6,262.7 309.1,262.8 309.1,263.6 310.3,263.9 311.6,263.6 312.1,263.7 312.2,264.4 313.3,264.7 314.7,264.4 315.1,264.6 315.2,265.2 316.3,265.5 317.7,265.3 318.1,265.4 318.2,266.1 319.4,266.3 320.7,266.2 321.2,266.3 321.2,266.9 322.4,267.2 323.7,267 324.2,267.2 324.3,267.7 325.4,268 326.8,267.9 327.2,268 327.3,268.5 328.4,268.8 329.8,268.8 330.3,268.9 330.3,269.3 331.5,269.6 332.8,269.6 333.3,269.7 333.3,270.2 334.5,270.5 335.9,270.5 336.3,270.6 336.4,271 337.5,271.3 338.9,271.3 339.3,271.5 339.4,271.8 340.5,272.1 341.9,272.2 342.4,272.3 342.4,272.7 343.6,273 344.9,273.1 345.4,273.2 345.4,273.5 346.6,273.8 348,273.9 348.4,274.1 348.5,274.3 349.6,274.7 351,274.8 351.4,274.9 351.5,275.2 352.6,275.5 354,275.7 354.5,275.8 354.5,276 355.7,276.3 357,276.5 357.5,276.6 357.6,276.9 358.7,277.2 360.1,277.4 360.5,277.5 360.6,277.7 361.7,278 363.1,278.2 363.5,278.4 363.6,278.6 364.8,278.9 366.1,279.1 366.6,279.2 366.6,279.4 366.8,279.4 339.4,302.8 323,315.2 321.1,315.9 319.5,315.1 318.6,314.8 318.3,315.4 315.6,321 311.9,326.5 311.9,326.5 307.8,325.4 303.7,324.3 299.6,323.2 295.6,322.1 291.5,321 287.4,319.9 283.3,318.8 279.2,317.7 275.1,316.7 271,315.6 266.9,314.5 262.8,313.4 258.8,312.3 254.7,311.2 250.6,310.1 246.5,308.9 242.4,307.5 238.3,306.8 234.2,307.5 230.1,306.6 226,305.8 221.9,304.6 217.8,303.5 213.8,302.3 209.7,301.4 205.6,300.4 201.5,299.5 197.4,298.5 193.3,297.6 189.2,296.7 193.8,292.7" fill="#4537d6"/>
<clipPath id="clc"><polygon points="244.1,248.9 278.5,258.6 283.1,259.3 286.9,259.5 290.8,259.2 292.8,258.8 293.8,257.3 295.1,257.9 295.1,260 296.5,259.3 297,259.4 297,260.5 298.2,260.8 299.5,260.1 300,260.3 300,261.3 301.2,261.5 302.6,261 303,261.1 303.1,262.1 304.2,262.3 305.6,261.9 306,262 306.1,262.9 307.2,263.1 308.6,262.7 309.1,262.8 309.1,263.6 310.3,263.9 311.6,263.6 312.1,263.7 312.2,264.4 313.3,264.7 314.7,264.4 315.1,264.6 315.2,265.2 316.3,265.5 317.7,265.3 318.1,265.4 318.2,266.1 319.4,266.3 320.7,266.2 321.2,266.3 321.2,266.9 322.4,267.2 323.7,267 324.2,267.2 324.3,267.7 325.4,268 326.8,267.9 327.2,268 327.3,268.5 328.4,268.8 329.8,268.8 330.3,268.9 330.3,269.3 331.5,269.6 332.8,269.6 333.3,269.7 333.3,270.2 334.5,270.5 335.9,270.5 336.3,270.6 336.4,271 337.5,271.3 338.9,271.3 339.3,271.5 339.4,271.8 340.5,272.1 341.9,272.2 342.4,272.3 342.4,272.7 343.6,273 344.9,273.1 345.4,273.2 345.4,273.5 346.6,273.8 348,273.9 348.4,274.1 348.5,274.3 349.6,274.7 351,274.8 351.4,274.9 351.5,275.2 352.6,275.5 354,275.7 354.5,275.8 354.5,276 355.7,276.3 357,276.5 357.5,276.6 357.6,276.9 358.7,277.2 360.1,277.4 360.5,277.5 360.6,277.7 361.7,278 363.1,278.2 363.5,278.4 363.6,278.6 364.8,278.9 366.1,279.1 366.6,279.2 366.6,279.4 366.8,279.4 339.4,302.8 323,315.2 321.1,315.9 319.5,315.1 318.6,314.8 318.3,315.4 315.6,321 311.9,326.5 311.9,326.5 307.8,325.4 303.7,324.3 299.6,323.2 295.6,322.1 291.5,321 287.4,319.9 283.3,318.8 279.2,317.7 275.1,316.7 271,315.6 266.9,314.5 262.8,313.4 258.8,312.3 254.7,311.2 250.6,310.1 246.5,308.9 242.4,307.5 238.3,306.8 234.2,307.5 230.1,306.6 226,305.8 221.9,304.6 217.8,303.5 213.8,302.3 209.7,301.4 205.6,300.4 201.5,299.5 197.4,298.5 193.3,297.6 189.2,296.7 193.8,292.7"/></clipPath>
<polygon points="244.1,248.9 326.6,272.2 268.7,308.6 264.1,312.6 193.8,292.7" fill="url(#whc)" clip-path="url(#clc)"/>
<polygon points="248.5,285.3 256,285.6 269.4,288 284.5,286 290.6,284 296.7,280 300,279 303,290 318.6,297 318.9,314.4 318.3,315.4 315.6,321 311.9,326.5 311.9,326.5 309.9,326.3 309.9,326 307.8,325.8 307.8,325.4 305.8,325.2 305.8,324.9 303.7,324.7 303.7,324.3 301.7,324.1 301.7,323.8 299.6,323.6 299.6,323.2 297.6,323 297.6,322.7 295.6,322.5 295.6,322.1 293.5,321.9 293.5,321.6 291.5,321.4 291.5,321 289.4,320.8 289.4,320.5 287.4,320.3 287.4,319.9 285.3,319.7 285.3,319.4 283.3,319.2 283.3,318.8 281.2,318.6 281.2,318.3 279.2,318.1 279.2,317.7 277.2,317.6 277.2,317.2 275.1,317 275.1,316.7 273.1,316.5 273.1,316.1 271,315.9 271,315.6 269,315.4 269,315 266.9,314.8 266.9,314.5 264.9,314.3 264.9,313.9 262.8,313.7 262.8,313.4 260.8,313.2 260.8,312.8 258.8,312.6 258.8,312.3 256.7,312.1 256.7,311.7 254.7,311.5 254.7,311.2 252.6,311 252.6,310.6 250.6,310.4 250.6,310.1 248.5,309.9 248.5,309.5 246.5,309.3 246.5,308.9 244.4,308.7 244.4,308.2 242.4,307.5 240.3,306.8 238.3,306.8 242.9,301.1 244.1,299.2 245.3,297.2 246.6,294.9 247.8,292.4 249,288.1" fill="url(#pac)"/>
<clipPath id="cpc"><polygon points="248.5,285.3 256,285.6 269.4,288 284.5,286 290.6,284 296.7,280 300,279 303,290 318.6,297 318.9,314.4 318.3,315.4 315.6,321 311.9,326.5 311.9,326.5 309.9,326.3 309.9,326 307.8,325.8 307.8,325.4 305.8,325.2 305.8,324.9 303.7,324.7 303.7,324.3 301.7,324.1 301.7,323.8 299.6,323.6 299.6,323.2 297.6,323 297.6,322.7 295.6,322.5 295.6,322.1 293.5,321.9 293.5,321.6 291.5,321.4 291.5,321 289.4,320.8 289.4,320.5 287.4,320.3 287.4,319.9 285.3,319.7 285.3,319.4 283.3,319.2 283.3,318.8 281.2,318.6 281.2,318.3 279.2,318.1 279.2,317.7 277.2,317.6 277.2,317.2 275.1,317 275.1,316.7 273.1,316.5 273.1,316.1 271,315.9 271,315.6 269,315.4 269,315 266.9,314.8 266.9,314.5 264.9,314.3 264.9,313.9 262.8,313.7 262.8,313.4 260.8,313.2 260.8,312.8 258.8,312.6 258.8,312.3 256.7,312.1 256.7,311.7 254.7,311.5 254.7,311.2 252.6,311 252.6,310.6 250.6,310.4 250.6,310.1 248.5,309.9 248.5,309.5 246.5,309.3 246.5,308.9 244.4,308.7 244.4,308.2 242.4,307.5 240.3,306.8 238.3,306.8 242.9,301.1 244.1,299.2 245.3,297.2 246.6,294.9 247.8,292.4 249,288.1"/></clipPath>
<polygon points="248.5,285.3 256,285.6 269.4,288 284.5,286 290.6,284 296.7,280 300,279 303,290 318.6,297 318.9,314.4 318.3,315.4 315.6,321 311.9,326.5 311.9,326.5 309.9,326.3 309.9,326 307.8,325.8 307.8,325.4 305.8,325.2 305.8,324.9 303.7,324.7 303.7,324.3 301.7,324.1 301.7,323.8 299.6,323.6 299.6,323.2 297.6,323 297.6,322.7 295.6,322.5 295.6,322.1 293.5,321.9 293.5,321.6 291.5,321.4 291.5,321 289.4,320.8 289.4,320.5 287.4,320.3 287.4,319.9 285.3,319.7 285.3,319.4 283.3,319.2 283.3,318.8 281.2,318.6 281.2,318.3 279.2,318.1 279.2,317.7 277.2,317.6 277.2,317.2 275.1,317 275.1,316.7 273.1,316.5 273.1,316.1 271,315.9 271,315.6 269,315.4 269,315 266.9,314.8 266.9,314.5 264.9,314.3 264.9,313.9 262.8,313.7 262.8,313.4 260.8,313.2 260.8,312.8 258.8,312.6 258.8,312.3 256.7,312.1 256.7,311.7 254.7,311.5 254.7,311.2 252.6,311 252.6,310.6 250.6,310.4 250.6,310.1 248.5,309.9 248.5,309.5 246.5,309.3 246.5,308.9 244.4,308.7 244.4,308.2 242.4,307.5 240.3,306.8 238.3,306.8 242.9,301.1 244.1,299.2 245.3,297.2 246.6,294.9 247.8,292.4 249,288.1" fill="url(#pbc)"/>
<clipPath id="cfc"><polygon points="238.3,310.5 311.9,326.5 317.3,315.2 318.6,314.5 318.9,234.5 238.3,234.5"/></clipPath>
<g clip-path="url(#cfc)">
<path d="M307 325.6C310.5 320.1 315.7 308.6 316.5 293.6L316.5 283.7" stroke="url(#vc0)" stroke-width="3.4" fill="none"/>
<path d="M308.5 325.6C312 320.1 317.2 308.6 318 293.6L318 260.2" stroke="url(#fc0)" stroke-width="2.0" fill="none"/>
<path d="M304 324.8C307.5 319.3 312.7 307.8 313.5 292.8L313.5 282.8" stroke="url(#vc1)" stroke-width="3.4" fill="none"/>
<path d="M305.5 324.8C309 319.3 314.2 307.8 315 292.8L315 259.3" stroke="url(#fc1)" stroke-width="2.0" fill="none"/>
<path d="M300.9 324C304.4 318.5 309.6 307 310.4 292L310.4 282" stroke="url(#vc2)" stroke-width="3.4" fill="none"/>
<path d="M302.4 324C305.9 318.5 311.1 307 311.9 292L311.9 258.5" stroke="url(#fc2)" stroke-width="2.0" fill="none"/>
<path d="M297.9 323.1C301.4 317.6 306.6 306.1 307.4 291.1L307.4 281.1" stroke="url(#vc3)" stroke-width="3.4" fill="none"/>
<path d="M299.4 323.1C302.9 317.6 308.1 306.1 308.9 291.1L308.9 257.6" stroke="url(#fc3)" stroke-width="2.0" fill="none"/>
<path d="M294.8 322.3C298.3 316.8 303.5 305.3 304.3 290.3L304.3 280.3" stroke="url(#vc4)" stroke-width="3.4" fill="none"/>
<path d="M296.3 322.3C299.8 316.8 305 305.3 305.8 290.3L305.8 256.8" stroke="url(#fc4)" stroke-width="2.0" fill="none"/>
<path d="M291.8 321.5C295.3 316 300.5 304.5 301.3 289.5L301.3 279.4" stroke="url(#vc5)" stroke-width="3.4" fill="none"/>
<path d="M293.3 321.5C296.8 316 302 304.5 302.8 289.5L302.8 255.9" stroke="url(#fc5)" stroke-width="2.0" fill="none"/>
<path d="M288.8 320.7C292.3 315.2 297.5 303.7 298.3 288.7L298.3 286.2" stroke="url(#vc6)" stroke-width="3.4" fill="none"/>
<path d="M290.3 320.7C293.8 315.2 299 303.7 299.8 288.7L299.8 270.5" stroke="url(#fc6)" stroke-width="1.7" fill="none"/>
<path d="M285.7 319.9C289.2 314.4 294.4 302.9 295.2 287.9L295.2 287.1" stroke="url(#vc7)" stroke-width="3.4" fill="none"/>
<path d="M287.2 319.9C290.7 314.4 295.9 302.9 296.7 287.9L296.7 277.5" stroke="url(#fc7)" stroke-width="1.7" fill="none"/>
<path d="M282.7 319.1C286.2 313.6 291.4 302.1 292.2 287.2L292.2 287.2" stroke="url(#vc8)" stroke-width="3.4" fill="none"/>
<path d="M284.2 319.1C287.7 313.6 292.9 302.1 293.7 287.1L293.7 280.6" stroke="url(#fc8)" stroke-width="1.7" fill="none"/>
<path d="M279.6 318.3C283.1 312.8 288.3 301.3 289.1 287L289.1 287" stroke="url(#vc9)" stroke-width="3.4" fill="none"/>
<path d="M281.1 318.3C284.6 312.8 289.8 301.3 290.6 286.3L290.6 282.5" stroke="url(#fc9)" stroke-width="1.7" fill="none"/>
<path d="M276.6 317.5C280.1 312 285.3 300.7 286.1 287.3L286.1 286.6" stroke="url(#vc10)" stroke-width="3.4" fill="none"/>
<path d="M278.1 317.5C281.6 312 286.8 300.7 287.6 287.3L287.6 284" stroke="url(#fc10)" stroke-width="1.7" fill="none"/>
<path d="M273.6 316.6C277.1 311.1 282.3 300.7 283.1 288L283.1 286.2" stroke="url(#vc11)" stroke-width="3.4" fill="none"/>
<path d="M275.1 316.6C278.6 311.1 283.8 300.7 284.6 288L284.6 284.8" stroke="url(#fc11)" stroke-width="1.7" fill="none"/>
<path d="M270.5 315.8C274 310.3 279.2 300.5 280 288.3L280 286" stroke="url(#vc12)" stroke-width="3.4" fill="none"/>
<path d="M272 315.8C275.5 310.3 280.7 300.5 281.5 288.3L281.5 285.2" stroke="url(#fc12)" stroke-width="1.7" fill="none"/>
<path d="M267.5 315C271 309.5 276.2 300.3 277 288.6L277 286.5" stroke="url(#vc13)" stroke-width="3.4" fill="none"/>
<path d="M269 315C272.5 309.5 277.7 300.3 278.5 288.6L278.5 285.7" stroke="url(#fc13)" stroke-width="1.7" fill="none"/>
<path d="M264.4 314.2C267.9 308.7 273.1 300.2 273.9 288.9L273.9 286.9" stroke="url(#vc14)" stroke-width="3.4" fill="none"/>
<path d="M265.9 314.2C269.4 308.7 274.6 300.2 275.4 288.9L275.4 286.1" stroke="url(#fc14)" stroke-width="1.7" fill="none"/>
<path d="M261.4 313.4C264.9 307.9 270.1 300 270.9 289.2L270.9 287.4" stroke="url(#vc15)" stroke-width="3.4" fill="none"/>
<path d="M262.9 313.4C266.4 307.9 271.6 300 272.4 289.2L272.4 286.6" stroke="url(#fc15)" stroke-width="1.7" fill="none"/>
<path d="M258.4 312.6C261.9 307.1 267.1 299.8 267.9 289.6L267.9 287.8" stroke="url(#vc16)" stroke-width="3.4" fill="none"/>
<path d="M259.9 312.6C263.4 307.1 268.6 299.8 269.4 289.6L269.4 287" stroke="url(#fc16)" stroke-width="1.7" fill="none"/>
<path d="M255.3 311.8C258.8 306.3 264 299.1 264.8 289L264.8 287.2" stroke="url(#vc17)" stroke-width="3.4" fill="none"/>
<path d="M256.8 311.8C260.3 306.3 265.5 299.1 266.3 289L266.3 286.4" stroke="url(#fc17)" stroke-width="1.7" fill="none"/>
<path d="M252.3 310.9C255.8 305.4 261 298.4 261.8 288.4L261.8 286.7" stroke="url(#vc18)" stroke-width="3.4" fill="none"/>
<path d="M253.8 310.9C257.3 305.4 262.5 298.4 263.3 288.4L263.3 285.9" stroke="url(#fc18)" stroke-width="1.7" fill="none"/>
<path d="M249.2 310.1C252.7 304.6 257.9 297.7 258.7 287.8L258.7 286.2" stroke="url(#vc19)" stroke-width="3.4" fill="none"/>
<path d="M250.7 310.1C254.2 304.6 259.4 297.7 260.2 287.8L260.2 285.4" stroke="url(#fc19)" stroke-width="1.7" fill="none"/>
<path d="M246.2 309.3C249.7 303.8 254.9 297.1 255.7 287.3L255.7 285.6" stroke="url(#vc20)" stroke-width="3.4" fill="none"/>
<path d="M247.7 309.3C251.2 303.8 256.4 297.1 257.2 287.3L257.2 284.8" stroke="url(#fc20)" stroke-width="1.7" fill="none"/>
<path d="M243.2 308.3C246.7 302.8 251.9 296.4 252.7 286.9L252.7 285.4" stroke="url(#vc21)" stroke-width="3.4" fill="none"/>
<path d="M244.7 308.3C248.2 302.8 253.4 296.4 254.2 286.9L254.2 284.6" stroke="url(#fc21)" stroke-width="1.7" fill="none"/>
</g>
<polygon points="189.2,296.7 193.3,297.6 197.4,298.5 201.5,299.5 205.6,300.4 209.7,301.4 213.8,302.3 217.8,303.5 221.9,304.6 226,305.8 230.1,306.6 234.2,307.5 238.3,306.8 242.9,301.1 242.9,301.1 238.8,303.6 234.7,303 230.6,302.1 226.5,301 222.4,299.8 218.3,298.6 214.2,297.5 210.2,296.5 206.1,295.6 202,294.6 197.9,293.6 193.8,292.7" fill="#3e26a8"/>
<polygon points="193.8,227.9 198.4,223.9 231,238.4" fill="#f9fb15" stroke="#f9fb15" stroke-width="0.6"/>
<polygon points="193.8,227.9 229.8,238.1 231.6,239.2 233.9,241.8 235.8,245.3 237.6,249.7 239.4,255.7 241.2,262 243,268.4 244.9,273.4 246.7,277.8 248.6,282.6 250.9,286.8 253.5,289.8 256,291.5 258.4,292.5 260.9,293.5 260.9,293.5 258.4,292.5 256,291.5 253.5,289.8 250.9,286.8 248.6,289.5 246.7,294.6 244.9,297.8 243,301 241.2,302.3 239.4,303.4 237.6,303.4 235.8,303.2 233.9,302.9 231.6,302.4 229.8,301.9 193.8,292.7" fill="url(#wlc)"/>
<text x="170.7" y="310.1" font-size="4.2" class="tk" text-anchor="end">0</text>
<text x="170.7" y="293.9" font-size="4.2" class="tk" text-anchor="end">0.05</text>
<text x="170.7" y="277.7" font-size="4.2" class="tk" text-anchor="end">0.1</text>
<text x="170.7" y="261.5" font-size="4.2" class="tk" text-anchor="end">0.15</text>
<text x="170.7" y="245.3" font-size="4.2" class="tk" text-anchor="end">0.2</text>
<text x="171" y="316.1" font-size="4.2" class="tk" text-anchor="end">0</text>
<text x="211.9" y="327.7" font-size="4.2" class="tk" text-anchor="end">50</text>
<text x="252.8" y="339.2" font-size="4.2" class="tk" text-anchor="end">100</text>
<text x="293.7" y="350.8" font-size="4.2" class="tk" text-anchor="end">150</text>
<text x="302.9" y="348.8" font-size="4.2" class="tk">-500</text>
<text x="325.8" y="328.9" font-size="4.2" class="tk">0</text>
<text x="348.6" y="309" font-size="4.2" class="tk">500</text>
<text x="371.5" y="289.1" font-size="4.2" class="tk">1000</text>
<path d="M175.5 243.8L175.5 308.6L298.2 343.3L366.8 283.6M175.5 308.6L172.7 308.6M175.5 292.4L172.7 292.4M175.5 276.2L172.7 276.2M175.5 260L172.7 260M175.5 243.8L172.7 243.8M175.5 308.6L173.4 310.4M216.4 320.2L214.3 322M257.3 331.7L255.2 333.6M298.2 343.3L296.1 345.1M298.2 343.3L300.9 344.1M321.1 323.4L323.8 324.2M343.9 303.5L346.6 304.3M366.8 283.6L369.5 284.4" stroke="#4a4a4a" stroke-width="0.5" fill="none"/>
<text transform="translate(159.2 308.4) rotate(-90)" font-size="7.9" class="sf" textLength="62.6" lengthAdjust="spacingAndGlyphs">Normalized density</text>
<text x="212.5" y="340.8" font-size="7.9" class="sf" textLength="27.3" lengthAdjust="spacingAndGlyphs">Time (s)</text>
<text x="331.1" y="323.2" font-size="7.9" class="sf" textLength="44.4" lengthAdjust="spacingAndGlyphs">Distance (m)</text>
<text x="272.9" y="363.3" font-size="11.5" class="sf" textLength="10.9" lengthAdjust="spacingAndGlyphs">(<tspan font-weight="bold">c</tspan>)</text>
<rect x="383.3" y="190.6" width="7.7" height="158.3" fill="url(#cbc)" stroke="#55553a" stroke-width="0.35"/>
<text x="392.8" y="192.7" font-size="3.8" class="tk">0.2</text>
<line x1="390.1" y1="206.6" x2="391" y2="206.6" stroke="#333" stroke-width="0.4"/>
<text x="392.8" y="208.7" font-size="3.8" class="tk">0.18</text>
<line x1="390.1" y1="222.6" x2="391" y2="222.6" stroke="#333" stroke-width="0.4"/>
<text x="392.8" y="224.7" font-size="3.8" class="tk">0.16</text>
<line x1="390.1" y1="238.6" x2="391" y2="238.6" stroke="#333" stroke-width="0.4"/>
<text x="392.8" y="240.7" font-size="3.8" class="tk">0.14</text>
<line x1="390.1" y1="254.6" x2="391" y2="254.6" stroke="#333" stroke-width="0.4"/>
<text x="392.8" y="256.7" font-size="3.8" class="tk">0.12</text>
<line x1="390.1" y1="270.6" x2="391" y2="270.6" stroke="#333" stroke-width="0.4"/>
<text x="392.8" y="272.7" font-size="3.8" class="tk">0.1</text>
<line x1="390.1" y1="286.6" x2="391" y2="286.6" stroke="#333" stroke-width="0.4"/>
<text x="392.8" y="288.7" font-size="3.8" class="tk">0.08</text>
<line x1="390.1" y1="302.6" x2="391" y2="302.6" stroke="#333" stroke-width="0.4"/>
<text x="392.8" y="304.7" font-size="3.8" class="tk">0.06</text>
<line x1="390.1" y1="318.6" x2="391" y2="318.6" stroke="#333" stroke-width="0.4"/>
<text x="392.8" y="320.7" font-size="3.8" class="tk">0.04</text>
<line x1="390.1" y1="334.6" x2="391" y2="334.6" stroke="#333" stroke-width="0.4"/>
<text x="392.8" y="336.7" font-size="3.8" class="tk">0.02</text>
</svg>
</body></html>
